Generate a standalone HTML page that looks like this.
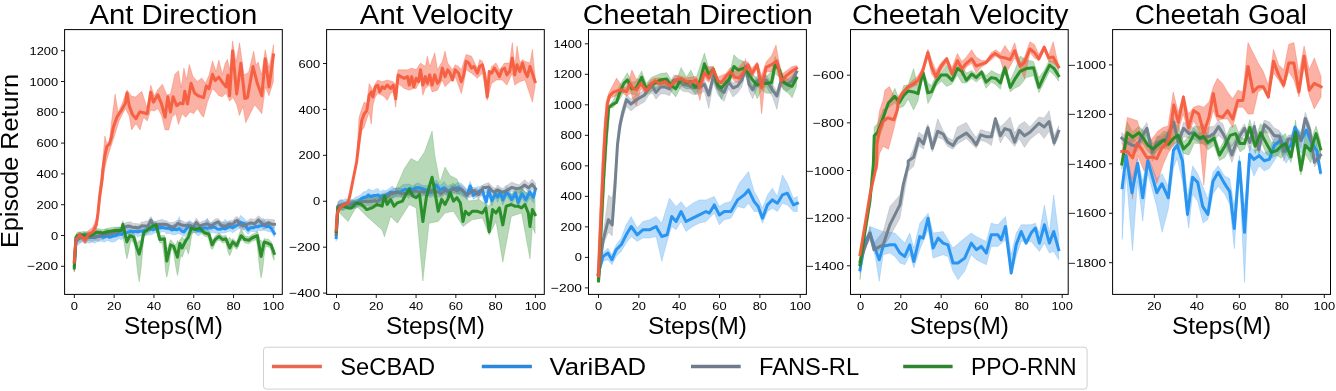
<!DOCTYPE html>
<html><head><meta charset="utf-8"><style>
html,body{margin:0;padding:0;background:#fff;}
svg{display:block;font-family:"Liberation Sans", sans-serif;fill:#000;will-change:transform;-webkit-font-smoothing:antialiased;}
text{fill:#000;}
</style></head><body>
<svg width="1336" height="391" viewBox="0 0 1336 391">
<rect width="1336" height="391" fill="#fff"/>
<clipPath id="c0"><rect x="64.6" y="29.6" width="217.70000000000002" height="264.79999999999995"/></clipPath>
<clipPath id="c1"><rect x="326.6" y="29.6" width="217.69999999999993" height="264.79999999999995"/></clipPath>
<clipPath id="c2"><rect x="588.5" y="29.6" width="217.89999999999998" height="264.79999999999995"/></clipPath>
<clipPath id="c3"><rect x="850.5" y="29.6" width="217.70000000000005" height="264.79999999999995"/></clipPath>
<clipPath id="c4"><rect x="1112.6" y="29.6" width="217.9000000000001" height="264.79999999999995"/></clipPath>
<g clip-path="url(#c0)">
<path d="M74.3,261.9 L76.0,235.6 L78.0,234.0 L80.0,232.3 L82.5,233.8 L85.0,231.8 L87.5,233.0 L89.9,233.3 L92.3,232.1 L94.7,233.4 L96.8,232.0 L98.8,232.8 L100.8,232.3 L102.9,232.4 L104.9,232.9 L107.0,230.5 L109.0,232.7 L111.1,232.3 L113.1,230.2 L115.2,231.1 L117.2,229.6 L119.3,228.3 L121.3,230.7 L123.4,229.3 L125.4,227.2 L128.0,226.7 L130.5,226.9 L133.1,227.7 L135.6,226.0 L137.7,226.2 L139.7,227.2 L141.8,225.4 L143.8,224.9 L145.9,225.6 L147.9,225.3 L150.5,225.2 L153.0,226.3 L155.6,223.0 L158.2,223.5 L160.2,222.6 L162.3,223.4 L164.3,222.3 L166.7,223.3 L169.2,223.8 L171.6,225.8 L174.0,223.9 L176.6,226.1 L179.1,216.6 L181.7,226.1 L184.2,226.4 L186.8,223.1 L189.3,220.5 L191.9,222.2 L194.5,223.4 L197.0,226.8 L199.6,227.0 L202.1,223.9 L204.7,224.1 L207.2,217.9 L209.8,223.3 L212.4,222.1 L214.9,223.3 L217.5,224.7 L220.0,223.6 L222.6,222.4 L225.2,219.2 L227.7,222.4 L230.3,221.7 L232.8,223.9 L235.4,222.6 L237.9,221.2 L240.5,215.3 L244.3,218.4 L248.2,224.0 L250.7,224.2 L253.3,222.7 L255.8,221.7 L258.4,221.4 L261.0,221.3 L263.5,217.9 L266.1,222.8 L268.6,221.3 L271.5,223.4 L274.4,227.6 L274.4,237.2 L271.5,232.2 L268.6,231.7 L266.1,230.8 L263.5,230.0 L261.0,230.9 L258.4,230.3 L255.8,232.1 L253.3,231.4 L250.7,231.4 L248.2,234.5 L244.3,229.6 L240.5,227.9 L237.9,229.0 L235.4,230.9 L232.8,232.8 L230.3,231.1 L227.7,231.7 L225.2,233.1 L222.6,233.0 L220.0,233.2 L217.5,233.3 L214.9,233.0 L212.4,232.3 L209.8,233.3 L207.2,234.0 L204.7,232.5 L202.1,232.4 L199.6,235.4 L197.0,235.3 L194.5,231.9 L191.9,233.7 L189.3,232.1 L186.8,233.6 L184.2,236.6 L181.7,235.0 L179.1,233.7 L176.6,234.1 L174.0,234.9 L171.6,234.3 L169.2,233.2 L166.7,234.0 L164.3,231.8 L162.3,231.5 L160.2,233.0 L158.2,231.8 L155.6,232.4 L153.0,234.1 L150.5,234.8 L147.9,234.9 L145.9,235.4 L143.8,235.9 L141.8,235.3 L139.7,235.9 L137.7,237.0 L135.6,234.9 L133.1,237.1 L130.5,234.8 L128.0,237.9 L125.4,237.5 L123.4,238.1 L121.3,240.0 L119.3,238.4 L117.2,239.9 L115.2,241.5 L113.1,242.1 L111.1,242.0 L109.0,240.9 L107.0,240.5 L104.9,242.0 L102.9,241.8 L100.8,241.1 L98.8,241.5 L96.8,241.9 L94.7,243.2 L92.3,242.1 L89.9,243.2 L87.5,242.8 L85.0,243.0 L82.5,241.9 L80.0,243.2 L78.0,245.1 L76.0,245.4 L74.3,271.2Z" fill="#2190F0" fill-opacity="0.3" stroke="#2190F0" stroke-opacity="0.24" stroke-width="0.8" stroke-linejoin="round"/>
<path d="M74.3,257.0 L76.0,234.1 L78.0,235.0 L80.0,233.4 L82.0,233.6 L84.0,232.5 L86.0,233.5 L88.0,233.4 L90.1,232.7 L92.2,233.0 L94.4,233.4 L96.5,233.2 L98.6,231.5 L100.8,230.3 L102.9,231.9 L105.0,229.8 L107.0,228.9 L109.0,230.1 L111.0,230.0 L113.0,229.5 L115.0,228.6 L117.1,227.9 L119.2,227.4 L121.3,227.4 L123.4,223.7 L125.4,222.8 L128.0,222.1 L130.5,221.7 L133.1,223.4 L135.6,223.3 L137.7,223.7 L139.7,224.1 L141.8,221.7 L143.8,222.1 L145.9,221.0 L147.9,221.2 L151.0,216.5 L153.0,220.5 L155.6,221.4 L158.2,220.4 L160.2,220.1 L162.3,219.3 L164.3,220.6 L166.7,220.9 L169.2,222.6 L171.6,222.5 L174.0,222.2 L177.8,220.1 L181.7,220.6 L185.5,222.5 L189.3,221.7 L193.2,223.5 L196.4,218.1 L199.6,222.4 L203.4,220.9 L207.2,219.4 L211.1,222.9 L214.9,219.0 L218.1,218.5 L221.3,221.5 L225.2,222.8 L229.0,220.7 L232.8,220.2 L235.1,217.4 L237.3,216.6 L240.5,221.1 L243.1,222.0 L245.6,221.7 L248.2,220.3 L250.7,218.6 L254.6,219.4 L258.4,215.8 L261.0,217.7 L263.5,220.4 L266.1,219.2 L268.6,219.2 L271.5,219.6 L274.4,219.7 L274.4,228.1 L271.5,228.7 L268.6,227.2 L266.1,228.4 L263.5,229.5 L261.0,225.9 L258.4,224.5 L254.6,228.7 L250.7,226.8 L248.2,227.9 L245.6,228.9 L243.1,230.3 L240.5,229.6 L237.3,224.7 L235.1,225.9 L232.8,229.1 L229.0,227.1 L225.2,230.3 L221.3,228.8 L218.1,225.1 L214.9,227.2 L211.1,230.6 L207.2,227.6 L203.4,228.0 L199.6,230.7 L196.4,226.8 L193.2,230.0 L189.3,229.3 L185.5,229.4 L181.7,229.1 L177.8,227.3 L174.0,230.7 L171.6,231.3 L169.2,229.9 L166.7,229.4 L164.3,227.7 L162.3,227.3 L160.2,229.6 L158.2,229.3 L155.6,229.4 L153.0,227.8 L151.0,223.4 L147.9,229.3 L145.9,230.0 L143.8,230.0 L141.8,229.9 L139.7,230.3 L137.7,231.3 L135.6,230.4 L133.1,230.9 L130.5,230.7 L128.0,230.0 L125.4,231.3 L123.4,232.6 L121.3,233.7 L119.2,236.6 L117.1,236.7 L115.0,237.0 L113.0,236.3 L111.0,237.2 L109.0,238.5 L107.0,237.6 L105.0,237.7 L102.9,239.9 L100.8,239.0 L98.6,240.9 L96.5,240.2 L94.4,240.6 L92.2,241.6 L90.1,240.9 L88.0,240.7 L86.0,242.6 L84.0,241.9 L82.0,240.6 L80.0,242.3 L78.0,242.1 L76.0,240.9 L74.3,266.7Z" fill="#6F7D8C" fill-opacity="0.33" stroke="#6F7D8C" stroke-opacity="0.26" stroke-width="0.8" stroke-linejoin="round"/>
<path d="M74.3,264.5 L76.0,234.5 L77.3,232.1 L78.3,232.0 L79.4,231.9 L80.4,231.9 L81.4,231.8 L82.4,231.7 L83.4,231.6 L84.5,231.6 L85.5,231.7 L86.5,231.7 L87.5,231.8 L88.6,231.9 L89.6,232.0 L90.6,232.1 L91.6,231.5 L92.7,230.9 L93.7,230.3 L94.7,229.7 L95.7,229.1 L96.8,228.5 L97.8,228.7 L98.8,228.8 L99.8,229.0 L100.8,229.2 L101.9,229.4 L102.9,229.5 L103.9,229.3 L104.9,229.0 L106.0,228.8 L107.0,228.5 L108.0,228.3 L109.0,228.0 L110.1,227.8 L111.1,227.7 L112.1,227.5 L113.1,227.3 L114.2,227.1 L115.2,227.0 L116.2,227.0 L117.2,227.0 L118.2,227.0 L119.3,227.0 L120.3,227.0 L121.3,227.0 L122.9,220.8 L124.1,226.5 L125.4,232.1 L126.9,237.3 L127.9,235.6 L128.9,233.7 L130.0,232.2 L131.3,232.8 L132.5,233.3 L133.8,233.4 L134.8,235.0 L135.9,237.9 L136.9,242.4 L138.0,242.8 L139.2,240.3 L140.3,242.5 L141.5,236.7 L142.6,231.7 L143.8,229.2 L145.1,228.1 L146.3,227.1 L147.6,226.1 L148.8,225.3 L149.9,224.6 L151.1,223.8 L152.2,223.0 L153.5,222.5 L154.8,222.0 L156.1,221.5 L157.3,225.1 L158.6,229.2 L159.9,234.2 L161.0,235.4 L162.2,235.7 L163.3,235.5 L164.5,235.3 L165.6,246.4 L166.8,248.0 L168.1,247.8 L169.4,242.3 L170.6,239.6 L171.7,240.8 L172.7,242.2 L173.7,243.0 L175.0,245.3 L176.3,243.7 L177.5,240.3 L178.7,242.6 L179.8,239.7 L181.0,238.6 L182.1,236.5 L183.4,238.8 L184.7,239.4 L186.0,236.2 L187.1,234.1 L188.3,232.5 L189.3,228.8 L190.3,226.3 L191.3,224.6 L192.6,225.1 L193.9,225.6 L195.2,226.1 L196.3,225.7 L197.5,225.3 L198.6,225.0 L199.8,224.6 L200.9,225.7 L202.1,226.9 L203.2,228.0 L204.4,229.2 L205.5,229.6 L206.7,229.9 L207.8,230.3 L209.0,230.7 L210.0,234.3 L211.0,237.9 L212.1,238.8 L213.1,239.7 L214.1,237.9 L215.1,236.1 L216.4,235.1 L217.7,234.0 L219.0,233.0 L220.2,234.0 L221.5,235.1 L222.8,236.1 L223.8,235.8 L224.8,235.6 L225.9,235.3 L227.1,238.4 L228.4,239.2 L229.7,237.3 L230.7,239.1 L231.7,240.0 L232.8,238.4 L234.0,239.7 L235.3,240.9 L236.6,241.9 L237.8,239.0 L238.9,234.7 L240.1,231.6 L241.2,229.6 L242.5,231.5 L243.8,234.0 L245.0,236.1 L246.3,236.3 L247.6,236.6 L248.9,236.8 L249.9,236.1 L250.9,235.3 L251.9,234.5 L253.0,234.1 L254.1,233.6 L255.2,233.2 L256.2,232.2 L257.3,231.1 L258.6,234.1 L259.9,240.6 L261.1,240.3 L262.2,242.6 L263.2,243.0 L264.2,238.4 L265.5,238.9 L266.8,239.4 L268.1,238.8 L269.1,239.9 L270.1,240.9 L271.1,241.4 L272.1,244.3 L273.2,247.1 L274.2,249.5 L274.2,260.3 L273.2,258.3 L272.1,255.2 L271.1,250.9 L270.1,247.9 L269.1,247.4 L268.1,246.9 L266.8,246.4 L265.5,247.0 L264.2,255.8 L263.2,265.2 L262.2,272.5 L261.1,277.9 L259.9,270.7 L258.6,259.9 L257.3,245.6 L256.2,239.7 L255.2,240.2 L254.1,240.6 L253.0,241.1 L251.9,241.5 L250.9,242.3 L249.9,243.1 L248.9,243.8 L247.6,243.6 L246.3,243.3 L245.0,243.1 L243.8,241.8 L242.5,240.5 L241.2,240.3 L240.1,241.7 L238.9,245.5 L237.8,248.1 L236.6,249.5 L235.3,248.2 L234.0,246.7 L232.8,247.2 L231.7,250.9 L230.7,253.7 L229.7,255.7 L228.4,252.9 L227.1,248.6 L225.9,242.7 L224.8,242.6 L223.8,242.8 L222.8,243.1 L221.5,242.1 L220.2,241.0 L219.0,240.0 L217.7,241.0 L216.4,242.1 L215.1,243.4 L214.1,246.2 L213.1,248.2 L212.1,249.5 L211.0,247.9 L210.0,244.7 L209.0,240.1 L207.8,237.3 L206.7,236.9 L205.5,236.6 L204.4,236.2 L203.2,235.0 L202.1,233.9 L200.9,232.7 L199.8,231.6 L198.6,232.0 L197.5,232.3 L196.3,232.7 L195.2,233.1 L193.9,232.6 L192.6,232.1 L191.3,238.1 L190.3,244.7 L189.3,250.1 L188.3,254.2 L187.1,250.6 L186.0,247.8 L184.7,249.9 L183.4,254.2 L182.1,257.2 L181.0,255.0 L179.8,260.8 L178.7,269.8 L177.5,275.6 L176.3,270.0 L175.0,262.6 L173.7,253.3 L172.7,249.5 L171.7,249.0 L170.6,252.4 L169.4,263.4 L168.1,271.7 L166.8,277.2 L165.6,270.9 L164.5,259.5 L163.3,250.8 L162.2,242.7 L161.0,242.9 L159.9,243.1 L158.6,240.0 L157.3,235.7 L156.1,229.6 L154.8,229.0 L153.5,229.5 L152.2,230.0 L151.1,230.8 L149.9,231.6 L148.8,232.3 L147.6,233.1 L146.3,234.1 L145.1,235.1 L143.8,236.6 L142.6,252.1 L141.5,264.8 L140.3,274.4 L139.2,281.8 L138.0,274.7 L136.9,266.2 L135.9,256.9 L134.8,246.2 L133.8,243.4 L132.5,241.7 L131.3,239.8 L130.0,244.6 L128.9,250.2 L127.9,254.9 L126.9,258.8 L125.4,251.8 L124.1,242.8 L122.9,236.7 L121.3,234.9 L120.3,234.0 L119.3,234.0 L118.2,234.0 L117.2,234.0 L116.2,234.0 L115.2,234.0 L114.2,234.1 L113.1,234.3 L112.1,234.5 L111.1,234.7 L110.1,234.8 L109.0,235.0 L108.0,235.3 L107.0,235.5 L106.0,235.8 L104.9,236.0 L103.9,236.3 L102.9,236.5 L101.9,236.4 L100.8,236.2 L99.8,236.0 L98.8,235.8 L97.8,235.7 L96.8,235.5 L95.7,236.1 L94.7,236.7 L93.7,237.3 L92.7,237.9 L91.6,238.5 L90.6,239.1 L89.6,239.0 L88.6,238.9 L87.5,238.8 L86.5,238.7 L85.5,238.7 L84.5,238.6 L83.4,238.6 L82.4,238.7 L81.4,238.8 L80.4,238.9 L79.4,238.9 L78.3,239.0 L77.3,239.1 L76.0,241.5 L74.3,271.5Z" fill="#238B23" fill-opacity="0.33" stroke="#238B23" stroke-opacity="0.26" stroke-width="0.8" stroke-linejoin="round"/>
<path d="M74.3,258.0 L75.9,237.0 L79.3,232.0 L82.7,234.0 L85.1,236.5 L87.8,231.0 L92.9,227.0 L96.3,219.0 L98.0,206.0 L99.7,188.0 L102.1,168.0 L104.9,136.0 L106.9,143.2 L109.4,141.2 L111.4,122.7 L115.1,94.1 L118.2,112.5 L122.3,103.3 L127.0,90.0 L131.5,96.1 L135.4,97.0 L141.8,91.3 L147.2,108.4 L150.7,85.1 L154.3,95.8 L157.9,89.6 L162.4,84.2 L166.9,94.9 L170.4,94.0 L174.9,74.3 L178.5,70.7 L181.2,87.8 L183.9,68.1 L186.6,79.7 L189.3,64.5 L192.8,76.1 L197.3,81.5 L201.8,77.9 L205.4,83.3 L209.0,75.2 L212.5,60.9 L216.1,71.6 L218.8,60.0 L222.4,74.3 L225.1,63.6 L227.4,59.4 L230.0,70.0 L232.6,40.9 L236.0,62.0 L239.6,42.8 L244.0,75.0 L248.6,72.2 L253.7,51.1 L256.0,65.0 L258.2,62.0 L261.5,75.0 L265.2,49.8 L269.0,68.0 L273.5,44.7 L273.4,81.5 L269.0,95.8 L265.4,86.9 L261.8,113.7 L259.1,110.2 L254.6,104.8 L250.2,113.7 L245.7,122.7 L243.0,106.6 L239.4,115.5 L236.7,104.8 L233.1,97.6 L229.6,101.2 L226.0,93.1 L222.4,96.7 L218.8,95.8 L216.1,92.2 L212.5,88.7 L209.9,95.8 L207.2,103.0 L203.6,117.3 L201.8,115.5 L197.3,108.4 L193.7,113.7 L190.2,111.9 L185.7,117.3 L182.1,113.7 L178.5,124.5 L175.8,113.7 L172.2,117.3 L168.7,130.0 L165.1,130.0 L161.5,115.5 L157.9,108.4 L154.3,111.0 L150.7,110.2 L147.2,120.9 L143.6,117.3 L140.0,130.0 L136.0,123.8 L131.5,129.9 L129.4,116.6 L125.4,108.4 L119.2,120.7 L114.1,137.1 L110.0,149.4 L106.9,159.6 L104.9,168.0 L102.1,188.0 L99.7,204.0 L98.0,220.0 L96.3,230.0 L92.9,236.0 L87.8,239.0 L85.1,244.0 L82.7,241.0 L79.3,238.5 L75.9,244.0 L74.3,272.0Z" fill="#F65C3E" fill-opacity="0.48" stroke="#F65C3E" stroke-opacity="0.38" stroke-width="0.8" stroke-linejoin="round"/>
<path d="M74.3,265.9 L76.0,240.1 L78.0,239.6 L80.0,237.4 L82.5,237.6 L85.0,237.8 L87.5,237.0 L89.9,237.5 L92.3,237.6 L94.7,237.7 L96.8,236.2 L98.8,236.5 L100.8,236.0 L102.9,237.3 L104.9,237.0 L107.0,235.5 L109.0,237.2 L111.1,236.9 L113.1,236.1 L115.2,235.8 L117.2,234.6 L119.3,233.9 L121.3,234.6 L123.4,233.2 L125.4,232.9 L128.0,232.3 L130.5,231.1 L133.1,231.7 L135.6,231.4 L137.7,232.0 L139.7,231.2 L141.8,231.3 L143.8,230.6 L145.9,230.6 L147.9,229.9 L150.5,229.0 L153.0,229.9 L155.6,228.9 L158.2,227.6 L160.2,227.8 L162.3,227.5 L164.3,227.9 L166.7,228.2 L169.2,228.1 L171.6,229.7 L174.0,229.2 L176.6,229.8 L179.1,228.5 L181.7,231.0 L184.2,232.0 L186.8,228.1 L189.3,226.3 L191.9,228.0 L194.5,227.4 L197.0,230.4 L199.6,231.1 L202.1,228.6 L204.7,227.8 L207.2,228.4 L209.8,227.7 L212.4,227.0 L214.9,227.2 L217.5,229.1 L220.0,229.3 L222.6,228.3 L225.2,228.9 L227.7,227.7 L230.3,226.6 L232.8,227.8 L235.4,226.2 L237.9,224.7 L240.5,222.3 L244.3,223.7 L248.2,229.9 L250.7,227.7 L253.3,227.8 L255.8,226.4 L258.4,226.7 L261.0,225.6 L263.5,225.1 L266.1,226.5 L268.6,226.2 L271.5,228.7 L274.4,233.4" fill="none" stroke="#2190F0" stroke-width="3" stroke-linejoin="round" stroke-linecap="square" stroke-opacity="0.95"/>
<path d="M74.3,261.9 L76.0,237.2 L78.0,238.4 L80.0,237.4 L82.0,237.2 L84.0,236.9 L86.0,237.8 L88.0,237.4 L90.1,237.4 L92.2,237.1 L94.4,237.1 L96.5,237.0 L98.6,236.2 L100.8,235.1 L102.9,235.3 L105.0,234.5 L107.0,233.8 L109.0,234.2 L111.0,234.1 L113.0,232.9 L115.0,232.6 L117.1,231.9 L119.2,231.6 L121.3,230.5 L123.4,228.6 L125.4,226.8 L128.0,226.0 L130.5,226.3 L133.1,227.5 L135.6,227.3 L137.7,228.1 L139.7,227.2 L141.8,225.8 L143.8,226.0 L145.9,225.9 L147.9,226.0 L151.0,220.0 L153.0,224.4 L155.6,224.7 L158.2,224.3 L160.2,224.7 L162.3,224.1 L164.3,224.6 L166.7,224.5 L169.2,225.9 L171.6,226.7 L174.0,227.1 L177.8,223.4 L181.7,225.1 L185.5,225.6 L189.3,225.1 L193.2,227.0 L196.4,222.4 L199.6,226.0 L203.4,224.6 L207.2,223.7 L211.1,226.1 L214.9,223.4 L218.1,221.7 L221.3,225.5 L225.2,226.3 L229.0,224.1 L232.8,224.3 L235.1,221.3 L237.3,220.3 L240.5,224.9 L243.1,226.1 L245.6,225.1 L248.2,223.7 L250.7,222.8 L254.6,223.7 L258.4,219.9 L261.0,222.4 L263.5,224.7 L266.1,223.9 L268.6,222.7 L271.5,224.1 L274.4,224.3" fill="none" stroke="#6F7D8C" stroke-width="3" stroke-linejoin="round" stroke-linecap="square" stroke-opacity="0.95"/>
<path d="M74.3,268.0 L76.0,238.0 L77.3,235.6 L84.5,235.1 L90.6,235.6 L96.8,232.0 L102.9,233.0 L109.0,231.5 L115.2,230.5 L121.3,230.5 L122.9,224.3 L125.4,235.6 L126.9,241.9 L130.0,235.7 L133.8,237.3 L136.9,248.0 L139.2,254.2 L141.5,244.9 L143.8,232.7 L147.6,229.6 L152.2,226.5 L156.1,225.0 L159.9,239.6 L164.5,238.8 L166.8,261.1 L170.6,244.9 L173.7,246.5 L177.5,257.2 L179.8,243.4 L182.1,248.0 L186.0,240.3 L188.3,237.3 L191.3,228.1 L195.2,229.6 L199.8,228.1 L204.4,232.7 L209.0,234.2 L212.1,244.9 L215.1,239.6 L219.0,236.5 L222.8,239.6 L225.9,238.8 L229.7,248.0 L232.8,241.9 L236.6,245.7 L241.2,235.7 L245.0,239.6 L248.9,240.3 L251.9,238.0 L257.3,235.7 L261.1,256.5 L264.2,241.9 L268.1,243.4 L271.1,244.9 L274.2,253.4" fill="none" stroke="#238B23" stroke-width="3" stroke-linejoin="round" stroke-linecap="square" stroke-opacity="0.95"/>
<path d="M74.3,262.0 L75.9,240.2 L79.3,235.1 L82.7,237.5 L85.1,240.2 L87.8,235.1 L92.9,231.7 L96.3,224.9 L98.0,213.0 L99.7,196.0 L102.1,179.0 L102.8,170.0 L104.9,155.5 L106.9,146.3 L109.4,144.2 L111.4,137.1 L113.5,126.8 L117.2,116.6 L121.3,110.5 L125.4,103.3 L127.0,93.1 L129.4,106.4 L132.5,114.6 L136.0,118.7 L139.5,112.3 L140.0,111.9 L143.6,112.8 L147.2,113.7 L150.7,92.2 L153.4,102.1 L157.9,94.9 L161.5,103.9 L165.1,117.3 L167.8,96.7 L170.4,111.9 L173.1,96.7 L176.7,105.7 L180.3,103.0 L183.0,103.9 L184.8,91.3 L187.5,103.9 L191.0,83.3 L194.6,93.1 L198.2,95.8 L200.9,96.7 L203.6,97.6 L206.3,86.0 L209.0,88.7 L212.5,74.3 L215.2,80.6 L218.8,77.0 L222.4,82.4 L226.0,86.9 L227.8,75.2 L229.6,95.8 L232.6,51.1 L236.7,94.0 L240.9,63.3 L244.8,98.5 L247.5,97.6 L253.0,66.5 L257.3,83.3 L261.8,95.8 L265.2,58.8 L269.0,86.9 L273.5,55.0" fill="none" stroke="#F65C3E" stroke-width="3" stroke-linejoin="round" stroke-linecap="square" stroke-opacity="0.95"/>
</g>
<g clip-path="url(#c1)">
<path d="M336.2,233.7 L337.9,202.1 L340.5,199.4 L343.0,199.9 L345.6,198.5 L348.1,200.8 L350.7,200.6 L353.2,199.1 L355.8,196.9 L358.3,196.3 L360.9,194.4 L363.4,191.8 L366.0,191.5 L368.5,188.8 L371.1,190.3 L373.6,190.6 L375.9,188.9 L378.1,188.5 L380.4,191.9 L382.7,189.9 L384.9,190.8 L387.2,190.0 L389.8,188.1 L392.3,186.1 L394.9,188.6 L397.4,188.0 L400.0,186.9 L402.5,184.8 L405.1,184.3 L407.6,184.0 L410.2,184.6 L412.7,186.0 L415.3,183.9 L417.8,182.9 L420.4,184.0 L422.9,185.5 L425.5,185.6 L428.0,185.3 L430.6,186.2 L433.1,184.5 L436.3,179.9 L440.1,185.6 L444.0,181.5 L447.8,186.4 L450.3,184.5 L452.9,185.7 L455.5,184.1 L458.0,181.9 L461.9,183.8 L464.4,186.3 L467.0,189.9 L470.2,181.2 L473.4,190.2 L477.2,186.7 L479.8,186.6 L482.3,185.1 L486.2,197.6 L488.7,184.5 L491.9,197.2 L495.1,188.6 L497.7,190.8 L500.2,188.6 L502.8,194.8 L506.6,186.3 L509.2,189.0 L511.7,194.3 L515.6,189.0 L518.1,198.0 L522.0,187.4 L525.8,193.6 L529.6,188.1 L533.5,193.5 L535.4,185.4 L535.4,194.0 L533.5,202.9 L529.6,197.9 L525.8,205.4 L522.0,198.0 L518.1,207.5 L515.6,196.9 L511.7,203.7 L509.2,199.7 L506.6,196.4 L502.8,205.1 L500.2,197.0 L497.7,202.5 L495.1,197.7 L491.9,206.1 L488.7,195.1 L486.2,207.7 L482.3,196.2 L479.8,194.7 L477.2,196.5 L473.4,199.3 L470.2,192.5 L467.0,199.7 L464.4,197.0 L461.9,196.1 L458.0,193.9 L455.5,191.9 L452.9,194.5 L450.3,195.3 L447.8,197.1 L444.0,192.3 L440.1,196.3 L436.3,190.6 L433.1,195.3 L430.6,197.9 L428.0,195.3 L425.5,196.5 L422.9,194.3 L420.4,193.0 L417.8,192.0 L415.3,194.4 L412.7,194.7 L410.2,193.0 L407.6,193.6 L405.1,193.7 L402.5,196.2 L400.0,197.1 L397.4,197.3 L394.9,196.6 L392.3,198.0 L389.8,196.0 L387.2,199.5 L384.9,199.3 L382.7,201.9 L380.4,203.0 L378.1,201.0 L375.9,201.0 L373.6,199.0 L371.1,201.9 L368.5,200.6 L366.0,201.7 L363.4,201.4 L360.9,203.1 L358.3,206.3 L355.8,207.8 L353.2,207.3 L350.7,209.5 L348.1,209.1 L345.6,209.3 L343.0,210.6 L340.5,209.6 L337.9,211.5 L336.2,241.3Z" fill="#2190F0" fill-opacity="0.3" stroke="#2190F0" stroke-opacity="0.24" stroke-width="0.8" stroke-linejoin="round"/>
<path d="M336.2,230.9 L337.9,201.9 L340.5,200.1 L343.0,200.8 L345.3,202.0 L347.5,198.8 L349.8,199.4 L352.1,199.6 L354.3,200.6 L356.6,200.0 L358.9,198.7 L361.1,197.5 L363.4,198.0 L365.7,196.4 L367.9,196.6 L370.2,196.1 L372.5,196.2 L374.7,197.6 L377.0,197.4 L379.3,196.6 L381.5,193.8 L383.8,193.4 L386.1,192.5 L388.3,192.8 L390.6,190.3 L392.9,188.4 L395.1,188.3 L397.4,187.9 L399.7,188.4 L401.9,188.8 L404.2,189.7 L406.5,189.7 L408.7,190.1 L411.0,189.3 L413.3,187.4 L415.5,185.5 L417.8,188.5 L420.1,188.7 L422.3,187.2 L424.6,187.6 L426.9,188.8 L429.1,188.1 L431.4,187.3 L433.8,189.1 L436.3,187.3 L438.8,187.3 L441.4,189.1 L445.2,186.6 L449.1,189.6 L452.9,182.8 L456.7,186.4 L460.6,184.9 L464.4,187.5 L467.0,190.4 L470.8,187.5 L474.6,187.3 L478.5,189.6 L481.0,187.3 L483.6,184.3 L486.2,183.6 L488.7,182.6 L492.5,186.7 L495.1,188.6 L497.7,185.0 L500.2,187.2 L502.8,188.6 L505.3,186.1 L507.9,184.7 L511.7,182.1 L515.6,183.8 L519.4,184.7 L522.0,182.2 L524.5,179.7 L528.4,183.4 L532.2,179.0 L535.4,183.1 L535.4,192.8 L532.2,189.3 L528.4,191.7 L524.5,188.1 L522.0,191.3 L519.4,193.2 L515.6,193.3 L511.7,190.9 L507.9,193.2 L505.3,196.8 L502.8,196.4 L500.2,195.9 L497.7,194.4 L495.1,195.1 L492.5,195.3 L488.7,190.9 L486.2,193.0 L483.6,192.3 L481.0,195.7 L478.5,199.6 L474.6,194.9 L470.8,196.9 L467.0,198.3 L464.4,196.4 L460.6,193.2 L456.7,194.4 L452.9,192.3 L449.1,196.8 L445.2,194.0 L441.4,197.4 L438.8,196.7 L436.3,196.4 L433.8,197.1 L431.4,195.1 L429.1,195.9 L426.9,195.9 L424.6,195.6 L422.3,195.8 L420.1,197.1 L417.8,196.0 L415.5,196.1 L413.3,195.2 L411.0,196.6 L408.7,198.6 L406.5,196.4 L404.2,198.0 L401.9,197.9 L399.7,195.6 L397.4,195.7 L395.1,196.7 L392.9,198.4 L390.6,197.8 L388.3,199.8 L386.1,201.4 L383.8,201.5 L381.5,202.9 L379.3,205.0 L377.0,206.7 L374.7,205.6 L372.5,205.8 L370.2,207.0 L367.9,205.3 L365.7,206.6 L363.4,205.9 L361.1,207.2 L358.9,206.1 L356.6,208.1 L354.3,208.6 L352.1,208.4 L349.8,209.0 L347.5,207.6 L345.3,208.4 L343.0,209.7 L340.5,210.7 L337.9,211.4 L336.2,238.6Z" fill="#6F7D8C" fill-opacity="0.33" stroke="#6F7D8C" stroke-opacity="0.26" stroke-width="0.8" stroke-linejoin="round"/>
<path d="M336.2,230.0 L337.9,204.5 L356.6,199.4 L382.1,194.3 L394.0,192.6 L404.2,168.8 L411.0,158.6 L417.8,162.0 L424.6,151.8 L432.1,131.1 L434.8,155.2 L439.9,182.4 L445.0,167.1 L450.1,175.6 L456.9,179.0 L462.0,190.9 L468.8,201.1 L479.0,199.4 L489.2,206.2 L496.0,189.2 L502.8,190.9 L511.3,194.3 L519.8,187.5 L526.6,192.6 L532.4,197.7 L535.1,199.4 L535.1,233.4 L532.4,226.6 L530.0,258.9 L521.5,213.0 L511.3,216.4 L502.8,262.3 L496.0,221.5 L489.2,235.1 L482.4,218.1 L472.2,219.8 L463.0,226.6 L453.5,211.3 L445.0,213.0 L438.2,221.5 L429.0,223.2 L422.9,281.0 L416.1,207.9 L409.3,204.5 L397.4,223.2 L390.6,216.4 L384.5,236.8 L382.1,230.0 L366.8,216.4 L356.6,206.2 L348.1,221.5 L337.9,211.3 L336.2,235.1Z" fill="#238B23" fill-opacity="0.33" stroke="#238B23" stroke-opacity="0.26" stroke-width="0.8" stroke-linejoin="round"/>
<path d="M336.2,228.0 L337.2,211.0 L339.6,205.9 L344.7,202.5 L348.1,200.8 L350.5,190.6 L353.2,177.0 L356.6,160.0 L359.0,117.4 L361.7,108.9 L364.1,102.1 L366.8,103.8 L369.2,83.4 L372.9,90.2 L375.3,83.4 L377.7,80.0 L382.1,81.7 L387.2,80.0 L393.3,81.7 L395.7,85.1 L398.1,69.8 L402.5,69.8 L407.6,69.8 L411.7,68.1 L416.1,69.8 L420.5,63.0 L425.3,66.4 L427.3,56.2 L429.7,66.4 L434.8,52.8 L437.5,69.8 L442.3,61.3 L445.0,51.1 L447.7,63.0 L452.5,69.8 L455.2,64.7 L458.6,66.4 L461.3,69.8 L466.1,54.5 L471.5,56.2 L477.3,68.1 L479.7,59.6 L482.4,61.3 L487.2,85.1 L491.6,66.4 L496.0,63.0 L499.4,69.8 L504.5,63.0 L509.6,63.0 L512.3,42.6 L514.7,66.4 L517.1,46.0 L519.8,63.0 L522.5,59.6 L524.9,61.3 L530.0,63.0 L532.4,49.4 L535.1,76.6 L535.1,86.8 L532.4,102.1 L527.3,86.8 L524.9,80.0 L519.8,81.7 L514.7,85.1 L512.3,73.2 L506.9,85.1 L502.1,80.0 L496.7,80.0 L491.6,83.4 L487.2,100.4 L482.4,73.2 L477.3,78.3 L471.5,73.2 L466.1,69.8 L463.7,83.4 L461.3,93.6 L455.2,76.6 L450.1,81.7 L445.0,86.8 L442.3,80.0 L437.5,90.2 L432.1,91.9 L429.7,85.1 L425.3,88.5 L422.9,95.3 L420.5,80.0 L416.1,88.5 L413.7,88.5 L409.3,90.2 L404.2,88.5 L398.1,83.4 L395.7,107.2 L393.3,91.9 L390.6,93.6 L387.2,100.4 L384.5,97.0 L382.1,95.3 L377.7,93.6 L375.3,97.0 L372.9,105.5 L371.2,124.2 L369.2,112.3 L366.8,119.1 L364.1,127.6 L361.7,131.0 L359.0,151.4 L356.6,164.0 L353.2,181.0 L350.5,194.6 L348.1,204.8 L344.7,206.5 L339.6,209.9 L337.2,215.0 L336.2,232.0Z" fill="#F65C3E" fill-opacity="0.48" stroke="#F65C3E" stroke-opacity="0.38" stroke-width="0.8" stroke-linejoin="round"/>
<path d="M336.2,237.7 L337.9,206.7 L340.5,205.7 L343.0,204.5 L345.6,203.8 L348.1,205.2 L350.7,204.4 L353.2,202.8 L355.8,202.8 L358.3,202.2 L360.9,199.1 L363.4,197.4 L366.0,197.1 L368.5,195.0 L371.1,196.7 L373.6,195.4 L375.9,195.4 L378.1,194.9 L380.4,197.2 L382.7,196.0 L384.9,195.8 L387.2,194.6 L389.8,192.3 L392.3,192.2 L394.9,192.6 L397.4,191.7 L400.0,192.8 L402.5,190.6 L405.1,189.2 L407.6,190.0 L410.2,188.3 L412.7,190.2 L415.3,188.2 L417.8,187.6 L420.4,188.0 L422.9,189.2 L425.5,190.2 L428.0,191.5 L430.6,192.6 L433.1,190.3 L436.3,184.9 L440.1,189.9 L444.0,187.9 L447.8,191.5 L450.3,190.2 L452.9,189.3 L455.5,188.2 L458.0,187.9 L461.9,189.7 L464.4,192.4 L467.0,195.2 L470.2,186.0 L473.4,195.4 L477.2,192.8 L479.8,191.0 L482.3,190.3 L486.2,202.0 L488.7,190.3 L491.9,200.7 L495.1,194.1 L497.7,197.1 L500.2,192.2 L502.8,200.1 L506.6,191.8 L509.2,195.0 L511.7,199.5 L515.6,193.3 L518.1,202.7 L522.0,193.7 L525.8,199.8 L529.6,192.0 L533.5,197.3 L535.4,189.2" fill="none" stroke="#2190F0" stroke-width="3" stroke-linejoin="round" stroke-linecap="square" stroke-opacity="0.95"/>
<path d="M336.2,234.6 L337.9,206.0 L340.5,205.3 L343.0,204.7 L345.3,205.3 L347.5,203.8 L349.8,204.5 L352.1,203.9 L354.3,203.8 L356.6,203.5 L358.9,202.7 L361.1,201.9 L363.4,201.6 L365.7,201.4 L367.9,201.7 L370.2,201.5 L372.5,201.4 L374.7,200.6 L377.0,201.9 L379.3,199.8 L381.5,199.0 L383.8,198.3 L386.1,197.4 L388.3,196.3 L390.6,193.4 L392.9,193.4 L395.1,192.8 L397.4,192.4 L399.7,192.5 L401.9,193.8 L404.2,193.5 L406.5,193.4 L408.7,194.0 L411.0,193.0 L413.3,192.0 L415.5,190.8 L417.8,191.7 L420.1,191.8 L422.3,191.5 L424.6,192.3 L426.9,192.3 L429.1,191.8 L431.4,190.5 L433.8,192.2 L436.3,191.5 L438.8,192.1 L441.4,193.8 L445.2,190.0 L449.1,192.8 L452.9,188.1 L456.7,190.8 L460.6,188.9 L464.4,192.3 L467.0,195.2 L470.8,191.8 L474.6,190.5 L478.5,194.6 L481.0,190.8 L483.6,187.4 L486.2,187.5 L488.7,187.0 L492.5,191.3 L495.1,192.0 L497.7,189.7 L500.2,191.5 L502.8,192.0 L505.3,191.3 L507.9,189.7 L511.7,187.4 L515.6,188.5 L519.4,188.2 L522.0,187.1 L524.5,185.0 L528.4,187.8 L532.2,184.3 L535.4,188.6" fill="none" stroke="#6F7D8C" stroke-width="3" stroke-linejoin="round" stroke-linecap="square" stroke-opacity="0.95"/>
<path d="M336.2,231.7 L337.9,207.9 L343.0,206.2 L348.1,207.9 L351.5,207.9 L356.6,202.8 L361.7,204.5 L366.8,209.6 L371.9,207.9 L377.0,204.5 L382.1,206.2 L384.5,196.0 L387.2,204.5 L390.6,199.4 L394.0,206.2 L397.4,202.8 L402.5,201.1 L405.9,194.3 L409.3,189.2 L412.7,196.0 L416.1,197.7 L419.5,194.3 L422.9,221.5 L426.3,197.7 L429.0,187.5 L432.1,177.3 L434.8,190.9 L438.2,211.3 L441.6,199.4 L445.0,204.5 L447.7,199.4 L450.1,192.6 L453.5,201.1 L456.9,197.7 L460.3,202.8 L463.0,221.5 L465.4,211.3 L468.8,214.7 L472.2,211.3 L477.3,211.3 L482.4,213.0 L485.8,207.9 L489.2,231.7 L492.6,209.6 L496.0,213.0 L499.4,207.9 L502.8,224.9 L506.2,206.2 L511.3,204.5 L514.7,206.2 L518.1,206.2 L521.5,207.9 L524.9,204.5 L528.3,213.0 L530.0,226.6 L532.4,209.6 L535.1,214.7" fill="none" stroke="#238B23" stroke-width="3" stroke-linejoin="round" stroke-linecap="square" stroke-opacity="0.95"/>
<path d="M336.2,230.0 L337.2,213.0 L339.6,207.9 L344.7,204.5 L348.1,202.8 L350.5,192.6 L353.2,179.0 L356.6,162.0 L359.0,141.2 L361.7,120.8 L364.1,114.0 L366.8,110.6 L369.2,95.3 L371.2,91.9 L372.9,97.0 L375.3,86.8 L377.7,85.1 L379.7,91.9 L382.1,86.8 L384.5,88.5 L387.2,85.1 L390.6,88.5 L393.3,85.1 L395.7,98.7 L398.1,74.9 L400.8,76.6 L404.2,78.3 L407.6,76.6 L409.3,85.1 L411.7,76.6 L413.7,86.8 L416.1,78.3 L418.5,81.7 L420.5,69.8 L422.9,85.1 L425.3,76.6 L427.3,83.4 L429.7,74.9 L432.1,85.1 L434.8,74.9 L437.5,83.4 L439.9,80.0 L442.3,68.1 L445.0,76.6 L447.7,69.8 L450.1,73.2 L452.5,80.0 L455.2,69.8 L458.6,73.2 L461.3,81.7 L463.7,74.9 L466.1,61.3 L468.8,63.0 L471.5,68.1 L473.9,66.4 L477.3,73.2 L479.7,66.4 L482.4,64.7 L484.8,74.9 L487.2,97.0 L489.2,71.5 L491.6,73.2 L494.3,68.1 L496.7,71.5 L499.4,76.6 L502.1,69.8 L504.5,68.1 L506.9,74.9 L509.6,71.5 L512.3,57.9 L514.7,74.9 L517.1,64.7 L519.8,71.5 L522.5,63.0 L524.9,71.5 L527.3,76.6 L530.0,66.4 L532.4,73.2 L535.1,81.7" fill="none" stroke="#F65C3E" stroke-width="3" stroke-linejoin="round" stroke-linecap="square" stroke-opacity="0.95"/>
</g>
<g clip-path="url(#c2)">
<path d="M598.0,273.0 L603.0,253.1 L607.9,248.1 L611.9,254.7 L616.2,244.8 L621.2,238.1 L626.2,224.8 L631.2,216.5 L637.2,228.1 L642.8,221.5 L649.5,219.8 L656.1,216.5 L661.8,223.2 L669.4,198.2 L676.1,206.5 L681.1,201.6 L686.0,208.2 L692.7,203.2 L699.3,199.9 L706.0,199.9 L714.3,196.6 L719.3,206.5 L724.3,203.2 L730.9,201.6 L739.2,183.3 L748.5,171.6 L754.2,191.6 L758.2,198.2 L762.5,208.2 L767.5,194.9 L772.4,188.3 L777.4,196.6 L782.4,175.0 L787.4,183.3 L793.4,198.2 L797.4,196.6 L797.4,211.5 L793.4,211.5 L787.4,204.9 L782.4,203.2 L777.4,211.5 L772.4,208.2 L767.5,211.5 L762.5,223.2 L758.2,211.5 L754.2,211.5 L748.5,203.2 L744.2,208.2 L737.6,206.5 L730.9,218.2 L724.3,219.8 L719.3,224.8 L714.3,213.2 L706.0,221.5 L699.3,223.2 L692.7,226.5 L686.0,231.5 L681.1,221.5 L676.1,229.8 L671.7,226.5 L667.1,241.4 L661.8,261.4 L656.1,236.5 L649.5,238.1 L642.8,238.1 L637.2,241.4 L631.2,236.5 L626.2,243.1 L621.2,251.4 L616.2,256.4 L611.9,264.7 L607.9,259.7 L603.0,261.4 L598.0,276.3Z" fill="#2190F0" fill-opacity="0.3" stroke="#2190F0" stroke-opacity="0.24" stroke-width="0.8" stroke-linejoin="round"/>
<path d="M598.5,274.0 L603.0,236.0 L608.4,195.0 L612.2,198.0 L614.9,175.0 L617.5,135.0 L620.0,118.0 L622.9,106.0 L626.5,94.6 L631.0,99.1 L635.4,95.5 L639.9,92.8 L644.4,90.1 L648.9,83.0 L652.4,81.2 L656.0,87.4 L660.5,82.1 L665.0,82.1 L669.5,83.8 L673.9,74.9 L678.4,75.8 L682.9,79.4 L688.3,80.3 L693.6,83.0 L699.9,82.1 L704.4,79.4 L708.8,90.1 L713.3,71.3 L717.8,83.0 L724.1,87.4 L728.5,76.7 L733.0,83.0 L737.5,81.2 L742.0,74.9 L745.5,58.4 L749.1,79.4 L752.7,84.7 L757.2,75.8 L761.6,75.8 L766.1,74.9 L772.4,84.7 L776.9,91.0 L781.3,74.9 L786.7,79.4 L792.1,75.8 L796.6,66.8 L796.6,78.7 L792.1,87.6 L786.7,91.2 L781.3,86.7 L776.9,109.4 L772.4,96.6 L766.1,86.7 L761.6,87.6 L757.2,87.6 L752.7,98.7 L749.1,91.2 L745.5,73.3 L742.0,86.7 L737.5,93.0 L733.0,96.9 L728.5,88.5 L724.1,101.4 L717.8,94.8 L713.3,83.1 L708.8,108.6 L704.4,91.2 L699.9,93.9 L693.6,94.8 L688.3,92.1 L682.9,91.2 L678.4,87.6 L673.9,86.7 L669.5,95.7 L665.0,93.9 L660.5,93.9 L656.0,99.2 L652.4,93.0 L648.9,94.8 L644.4,101.9 L639.9,104.6 L635.4,107.3 L631.0,110.9 L626.5,106.4 L622.9,118.0 L620.0,132.0 L617.5,152.0 L614.9,200.0 L612.2,236.0 L608.4,232.0 L603.0,246.0 L598.5,280.0Z" fill="#6F7D8C" fill-opacity="0.33" stroke="#6F7D8C" stroke-opacity="0.26" stroke-width="0.8" stroke-linejoin="round"/>
<path d="M597.0,281.0 L599.5,230.0 L602.0,180.0 L604.5,140.0 L607.1,107.7 L613.1,100.5 L620.2,84.4 L627.4,72.7 L631.9,82.6 L636.3,80.8 L641.7,71.0 L646.2,83.5 L651.6,77.2 L656.0,75.4 L660.5,73.6 L666.8,72.7 L671.2,79.9 L675.7,82.6 L681.1,67.4 L686.5,77.2 L690.9,70.1 L695.4,79.9 L704.4,53.1 L708.8,68.3 L713.3,66.5 L717.8,79.0 L721.4,83.5 L725.8,77.2 L729.4,74.5 L733.9,54.8 L738.4,59.3 L742.9,61.1 L747.3,68.3 L751.8,73.6 L757.2,78.1 L761.6,77.2 L766.1,76.3 L771.5,71.9 L775.1,56.6 L779.6,64.7 L783.1,75.4 L788.5,79.9 L792.1,77.2 L796.6,71.0 L796.6,86.2 L792.1,97.8 L788.5,93.3 L783.1,89.8 L779.6,77.2 L775.1,73.6 L771.5,93.3 L766.1,93.3 L761.6,89.8 L757.2,98.7 L751.8,85.3 L747.3,77.2 L742.9,75.4 L738.4,79.0 L733.9,73.6 L729.4,83.5 L725.8,88.9 L721.4,99.6 L717.8,90.6 L713.3,75.4 L708.8,80.8 L704.4,70.1 L699.9,89.8 L695.4,94.2 L690.9,88.9 L686.5,88.9 L681.1,86.2 L675.7,96.9 L671.2,91.5 L666.8,85.3 L660.5,85.3 L656.0,88.9 L651.6,91.5 L646.2,95.1 L641.7,83.5 L636.3,95.1 L631.9,94.2 L627.4,85.3 L620.2,98.7 L613.1,107.7 L610.1,107.7 L607.5,140.0 L605.0,180.0 L602.5,230.0 L600.0,281.0Z" fill="#238B23" fill-opacity="0.33" stroke="#238B23" stroke-opacity="0.26" stroke-width="0.8" stroke-linejoin="round"/>
<path d="M597.0,276.0 L599.5,215.0 L602.0,160.0 L604.0,125.0 L606.0,103.0 L608.6,93.3 L616.6,78.1 L622.0,86.2 L626.5,88.0 L631.9,70.1 L636.3,79.0 L640.8,79.9 L646.2,86.2 L650.7,79.9 L655.1,78.1 L665.0,78.1 L670.3,82.6 L675.7,75.4 L681.1,76.3 L686.5,78.1 L695.4,76.3 L699.9,81.7 L704.4,66.5 L713.3,66.5 L717.8,77.2 L725.8,73.6 L730.3,67.4 L734.8,71.9 L743.7,61.1 L747.9,62.0 L751.8,68.3 L757.2,62.0 L761.6,75.4 L766.1,62.0 L771.5,55.7 L776.0,45.0 L781.3,74.5 L792.1,66.5 L796.6,65.6 L796.6,71.9 L792.1,76.3 L781.3,87.1 L776.9,68.3 L771.5,71.9 L766.1,71.9 L761.6,113.9 L757.2,68.3 L751.8,78.1 L747.9,68.3 L743.7,77.2 L739.3,82.6 L734.8,81.7 L730.3,76.3 L725.8,80.8 L717.8,85.3 L713.3,71.9 L708.8,82.6 L704.4,78.1 L699.9,100.5 L695.4,84.4 L691.8,87.1 L681.1,83.5 L675.7,83.5 L670.3,89.8 L665.0,85.3 L655.1,84.4 L650.7,89.8 L646.2,93.3 L640.8,88.9 L636.3,105.9 L632.8,98.7 L631.0,93.3 L626.5,96.0 L622.0,92.4 L617.5,95.1 L613.1,96.9 L609.5,98.7 L609.0,103.0 L607.0,125.0 L605.0,160.0 L602.5,215.0 L600.0,276.0Z" fill="#F65C3E" fill-opacity="0.48" stroke="#F65C3E" stroke-opacity="0.38" stroke-width="0.8" stroke-linejoin="round"/>
<path d="M598.0,274.7 L603.0,256.4 L607.9,253.1 L611.9,259.7 L616.2,249.7 L621.2,244.8 L626.2,234.8 L631.2,226.5 L637.2,234.8 L642.8,229.8 L649.5,229.8 L656.1,226.5 L661.8,236.5 L667.1,234.8 L671.7,216.5 L676.1,221.5 L681.1,211.5 L686.0,221.5 L692.7,218.2 L699.3,214.9 L706.0,211.5 L709.3,213.2 L714.3,204.9 L719.3,214.9 L724.3,211.5 L730.9,211.5 L737.6,199.9 L744.2,194.9 L748.5,189.9 L754.2,201.6 L758.2,206.5 L762.5,218.2 L767.5,204.9 L772.4,199.9 L777.4,203.2 L782.4,194.9 L787.4,193.2 L793.4,204.9 L797.4,203.2" fill="none" stroke="#2190F0" stroke-width="3" stroke-linejoin="round" stroke-linecap="square" stroke-opacity="0.95"/>
<path d="M598.5,277.0 L603.0,241.0 L608.4,219.6 L612.2,225.0 L614.9,187.4 L617.5,144.4 L620.0,125.0 L622.9,112.2 L626.5,99.6 L631.0,104.1 L635.4,100.5 L639.9,97.8 L644.4,95.1 L648.9,88.0 L652.4,86.2 L656.0,92.4 L660.5,87.1 L665.0,87.1 L669.5,88.9 L673.9,79.9 L678.4,80.8 L682.9,84.4 L688.3,85.3 L693.6,88.0 L699.9,87.1 L704.4,84.4 L708.8,95.1 L713.3,76.3 L717.8,88.0 L724.1,92.4 L728.5,81.7 L733.0,88.0 L737.5,86.2 L742.0,79.9 L745.5,66.5 L749.1,84.4 L752.7,89.8 L757.2,80.8 L761.6,80.8 L766.1,79.9 L772.4,89.8 L776.9,96.0 L781.3,79.9 L786.7,84.4 L792.1,80.8 L796.6,71.9" fill="none" stroke="#6F7D8C" stroke-width="3" stroke-linejoin="round" stroke-linecap="square" stroke-opacity="0.95"/>
<path d="M598.5,281.0 L601.0,230.0 L603.5,180.0 L606.0,140.0 L608.6,107.7 L613.1,104.1 L616.6,102.3 L620.2,91.5 L623.8,83.5 L627.4,79.9 L631.9,88.9 L636.3,88.0 L641.7,77.2 L646.2,88.9 L651.6,84.4 L656.0,82.6 L660.5,79.9 L666.8,79.0 L671.2,85.3 L675.7,88.9 L681.1,79.0 L686.5,82.6 L690.9,81.7 L695.4,87.1 L699.9,81.7 L704.4,63.8 L708.8,74.5 L713.3,69.2 L717.8,85.3 L721.4,88.0 L725.8,82.6 L729.4,79.0 L733.9,66.5 L738.4,70.1 L742.9,68.3 L747.3,71.9 L751.8,79.0 L757.2,85.3 L761.6,82.6 L766.1,83.5 L771.5,82.6 L775.1,64.7 L779.6,70.1 L783.1,81.7 L788.5,85.3 L792.1,86.2 L796.6,78.1" fill="none" stroke="#238B23" stroke-width="3" stroke-linejoin="round" stroke-linecap="square" stroke-opacity="0.95"/>
<path d="M598.5,276.0 L601.0,215.0 L603.5,160.0 L605.5,125.0 L607.5,103.0 L609.5,96.0 L613.1,92.4 L617.5,90.6 L622.0,89.8 L626.5,91.9 L630.1,83.5 L632.8,88.0 L636.3,89.8 L640.8,83.5 L646.2,90.6 L650.7,85.3 L655.1,80.8 L659.6,83.5 L665.0,81.7 L670.3,86.2 L675.7,79.9 L681.1,79.0 L686.5,81.7 L691.8,82.6 L695.4,79.9 L699.9,87.1 L704.4,72.7 L708.8,78.1 L713.3,69.2 L717.8,80.8 L721.4,82.6 L725.8,76.3 L730.3,71.9 L734.8,77.2 L739.3,78.1 L743.7,71.9 L747.9,64.7 L751.8,73.6 L757.2,64.7 L761.6,88.0 L766.1,67.4 L771.5,64.7 L776.9,61.1 L781.3,80.8 L786.7,75.4 L792.1,71.0 L796.6,68.3" fill="none" stroke="#F65C3E" stroke-width="3" stroke-linejoin="round" stroke-linecap="square" stroke-opacity="0.95"/>
</g>
<g clip-path="url(#c3)">
<path d="M860.0,266.4 L869.9,226.5 L883.2,231.5 L894.9,233.1 L904.8,243.1 L909.8,233.1 L913.8,248.1 L919.8,223.2 L928.1,213.2 L933.1,233.1 L943.1,231.5 L953.0,248.1 L964.7,238.1 L971.3,233.1 L976.3,236.5 L986.3,241.4 L991.2,223.2 L997.9,224.8 L1005.5,216.5 L1011.2,254.7 L1016.2,233.1 L1021.2,224.8 L1031.1,224.8 L1035.4,223.2 L1039.4,233.1 L1044.4,204.9 L1049.4,233.1 L1053.7,194.9 L1058.7,234.8 L1058.7,259.7 L1053.7,251.4 L1049.4,253.1 L1044.4,243.1 L1039.4,251.4 L1031.1,241.4 L1021.2,241.4 L1016.2,256.4 L1011.2,274.7 L1005.5,239.8 L997.9,246.4 L991.2,246.4 L986.3,264.7 L976.3,259.7 L971.3,254.7 L964.7,271.3 L958.0,279.7 L953.0,271.3 L948.0,256.4 L943.1,254.7 L933.1,258.1 L928.1,229.8 L919.8,249.7 L913.8,268.0 L909.8,254.7 L904.8,264.7 L899.9,263.0 L894.9,256.4 L889.9,253.1 L883.2,254.7 L879.2,281.3 L874.9,254.7 L869.9,239.8 L865.0,248.1 L860.0,273.0Z" fill="#2190F0" fill-opacity="0.3" stroke="#2190F0" stroke-opacity="0.24" stroke-width="0.8" stroke-linejoin="round"/>
<path d="M860.0,259.7 L869.9,226.5 L873.9,243.1 L883.2,231.5 L889.9,206.5 L899.9,194.9 L908.2,161.7 L913.6,148.3 L918.9,132.2 L923.4,135.8 L927.9,124.2 L932.3,141.2 L937.7,118.8 L943.1,130.4 L947.6,137.6 L952.9,140.3 L957.4,126.9 L966.4,122.4 L971.7,131.3 L976.2,137.6 L980.7,129.5 L986.1,131.3 L991.4,132.2 L995.4,117.0 L1000.4,126.9 L1004.9,122.4 L1010.2,117.0 L1014.7,133.1 L1019.2,125.1 L1024.5,121.5 L1029.9,126.9 L1038.9,117.0 L1044.2,117.9 L1049.1,110.7 L1054.1,135.8 L1058.6,126.0 L1058.6,136.7 L1054.1,146.5 L1049.1,131.3 L1044.2,138.5 L1038.9,132.2 L1029.9,139.4 L1024.5,147.4 L1019.2,138.5 L1014.7,146.5 L1010.2,141.2 L1004.9,134.9 L1000.4,143.0 L995.4,126.9 L991.4,145.6 L986.1,142.1 L980.7,140.3 L976.2,148.3 L971.7,143.9 L966.4,138.5 L957.4,143.9 L952.9,149.2 L947.6,146.5 L943.1,139.4 L937.7,137.6 L932.3,151.9 L927.9,134.9 L923.4,149.2 L918.9,145.6 L913.6,166.2 L908.2,171.6 L899.9,218.2 L889.9,236.5 L883.2,248.1 L878.2,251.4 L869.9,236.5 L860.0,263.0Z" fill="#6F7D8C" fill-opacity="0.33" stroke="#6F7D8C" stroke-opacity="0.26" stroke-width="0.8" stroke-linejoin="round"/>
<path d="M860.0,262.0 L865.0,226.5 L869.9,196.6 L873.3,161.7 L874.2,126.9 L877.7,123.3 L883.1,109.0 L885.8,108.9 L894.8,88.3 L899.2,99.1 L903.7,85.6 L908.2,84.8 L913.6,68.6 L918.0,88.3 L923.0,70.4 L927.9,83.0 L931.5,85.6 L935.9,75.8 L941.3,72.2 L946.7,65.1 L952.0,74.0 L957.4,66.0 L961.9,66.9 L966.4,73.1 L971.7,70.4 L976.2,74.0 L981.6,69.5 L986.1,75.8 L991.4,70.4 L995.9,73.1 L1000.4,74.9 L1004.9,65.1 L1010.2,80.3 L1014.7,70.4 L1020.1,56.1 L1026.3,59.7 L1033.5,61.5 L1038.9,77.6 L1044.2,70.4 L1049.6,59.7 L1054.1,61.5 L1058.6,68.6 L1058.6,81.2 L1054.1,74.9 L1049.6,71.3 L1044.2,82.1 L1038.9,92.8 L1033.5,75.8 L1026.3,77.6 L1020.1,85.6 L1014.7,88.3 L1010.2,91.9 L1004.9,71.3 L1000.4,89.2 L995.9,84.8 L991.4,82.1 L986.1,88.3 L981.6,77.6 L976.2,82.1 L971.7,78.5 L966.4,83.0 L961.9,83.0 L957.4,74.9 L952.0,83.9 L946.7,86.5 L941.3,81.2 L935.9,86.5 L931.5,97.3 L927.9,103.6 L923.0,75.8 L918.0,100.9 L913.6,110.0 L908.2,99.1 L903.7,106.2 L899.2,108.0 L894.8,102.7 L885.8,110.0 L883.1,126.9 L877.7,141.2 L874.2,144.8 L873.3,168.3 L869.9,206.5 L865.0,238.1 L860.0,279.7Z" fill="#238B23" fill-opacity="0.33" stroke="#238B23" stroke-opacity="0.26" stroke-width="0.8" stroke-linejoin="round"/>
<path d="M860.0,252.1 L865.0,222.2 L869.9,192.3 L874.6,165.0 L875.1,141.2 L879.5,110.7 L883.1,100.0 L884.9,90.1 L889.4,86.5 L895.6,99.1 L903.7,90.1 L910.9,82.1 L918.0,75.8 L922.5,67.7 L927.9,49.0 L931.5,59.7 L935.9,70.4 L941.3,62.4 L946.7,57.0 L952.0,67.7 L957.4,53.4 L961.9,61.5 L966.4,57.0 L971.7,49.8 L976.2,57.0 L981.6,60.6 L986.1,60.6 L991.4,52.5 L995.9,49.8 L1000.4,53.4 L1004.9,45.4 L1010.2,53.4 L1014.7,42.7 L1020.1,63.3 L1024.5,57.0 L1029.9,41.8 L1034.4,44.5 L1038.9,54.3 L1044.2,45.4 L1048.7,55.2 L1053.2,41.8 L1058.6,66.0 L1058.6,67.7 L1053.2,63.3 L1048.7,61.5 L1044.2,50.7 L1038.9,60.6 L1034.4,57.9 L1029.9,52.5 L1024.5,78.5 L1020.1,68.6 L1014.7,57.9 L1010.2,66.0 L1004.9,75.8 L1000.4,59.7 L995.9,56.1 L991.4,59.7 L986.1,64.2 L981.6,66.9 L976.2,73.1 L971.7,63.3 L966.4,66.9 L961.9,75.8 L957.4,65.1 L952.0,75.8 L946.7,63.3 L941.3,70.4 L935.9,80.3 L931.5,74.0 L927.9,57.0 L922.5,75.8 L918.0,84.8 L913.6,86.5 L907.3,90.1 L901.9,97.3 L898.3,104.4 L897.4,114.3 L893.0,132.2 L888.5,149.2 L883.1,146.5 L879.5,153.7 L876.9,170.0 L876.6,167.7 L869.9,197.6 L865.0,227.5 L860.0,257.4Z" fill="#F65C3E" fill-opacity="0.48" stroke="#F65C3E" stroke-opacity="0.38" stroke-width="0.8" stroke-linejoin="round"/>
<path d="M860.0,269.7 L865.0,241.4 L869.9,233.1 L874.9,248.1 L879.2,259.7 L883.2,246.4 L889.9,244.8 L894.9,244.8 L899.9,253.1 L904.8,256.4 L909.8,244.8 L913.8,261.4 L919.8,236.5 L923.1,238.1 L928.1,218.2 L933.1,248.1 L938.1,238.1 L943.1,243.1 L948.0,244.8 L953.0,263.0 L958.0,263.0 L964.7,258.1 L971.3,243.1 L976.3,249.7 L981.3,246.4 L986.3,253.1 L991.2,234.8 L997.9,234.8 L1001.2,239.8 L1005.5,226.5 L1011.2,273.0 L1016.2,244.8 L1021.2,231.5 L1026.1,243.1 L1031.1,233.1 L1035.4,228.1 L1039.4,243.1 L1044.4,224.8 L1049.4,243.1 L1053.7,231.5 L1058.7,249.7" fill="none" stroke="#2190F0" stroke-width="3" stroke-linejoin="round" stroke-linecap="square" stroke-opacity="0.95"/>
<path d="M860.0,261.4 L869.9,233.1 L873.9,249.7 L883.2,244.8 L889.9,224.8 L894.9,214.9 L899.9,204.9 L903.2,184.9 L908.2,165.0 L908.2,160.9 L913.6,157.3 L918.9,138.5 L923.4,143.9 L927.9,127.7 L932.3,148.3 L937.7,131.3 L943.1,134.0 L947.6,142.1 L952.9,145.6 L957.4,138.5 L966.4,133.1 L971.7,138.5 L976.2,144.8 L980.7,134.9 L986.1,136.7 L991.4,136.7 L995.4,118.8 L1000.4,135.8 L1004.9,128.6 L1010.2,130.4 L1014.7,142.1 L1019.2,130.4 L1024.5,135.8 L1029.9,132.2 L1038.9,123.3 L1044.2,126.9 L1049.1,121.5 L1054.1,143.0 L1058.6,131.3" fill="none" stroke="#6F7D8C" stroke-width="3" stroke-linejoin="round" stroke-linecap="square" stroke-opacity="0.95"/>
<path d="M860.0,264.7 L865.0,231.5 L869.9,201.6 L873.3,165.0 L874.2,135.8 L877.7,132.2 L883.1,117.9 L885.8,110.0 L888.5,102.7 L894.8,96.4 L899.2,102.7 L903.7,95.5 L908.2,91.0 L913.6,91.9 L918.0,93.7 L923.0,72.2 L927.9,92.8 L931.5,91.9 L935.9,82.1 L941.3,74.9 L946.7,74.9 L952.0,80.3 L957.4,68.6 L961.9,71.3 L966.4,80.3 L971.7,74.0 L976.2,77.6 L981.6,72.2 L986.1,82.1 L991.4,77.6 L995.9,78.5 L1000.4,83.0 L1004.9,67.7 L1010.2,87.4 L1014.7,79.4 L1020.1,71.3 L1026.3,68.6 L1033.5,67.7 L1038.9,87.4 L1044.2,75.8 L1049.6,65.1 L1054.1,68.6 L1058.6,75.8" fill="none" stroke="#238B23" stroke-width="3" stroke-linejoin="round" stroke-linecap="square" stroke-opacity="0.95"/>
<path d="M860.0,254.7 L865.0,224.8 L869.9,194.9 L876.6,165.0 L876.9,144.8 L879.5,130.4 L883.1,121.5 L887.6,117.9 L893.9,119.7 L897.4,109.8 L898.3,100.9 L901.9,93.7 L907.3,87.4 L913.6,83.9 L918.0,80.3 L922.5,71.3 L927.9,52.5 L931.5,66.9 L935.9,76.7 L941.3,66.0 L946.7,58.8 L952.0,74.0 L957.4,60.6 L961.9,68.6 L966.4,63.3 L971.7,58.8 L976.2,66.0 L981.6,64.2 L986.1,62.4 L991.4,56.1 L995.0,53.4 L1000.4,57.0 L1004.9,57.9 L1010.2,59.7 L1014.7,50.7 L1020.1,66.0 L1024.5,62.4 L1029.9,49.0 L1034.4,52.5 L1038.9,58.8 L1044.2,47.2 L1048.7,57.9 L1053.2,57.0 L1058.6,66.9" fill="none" stroke="#F65C3E" stroke-width="3" stroke-linejoin="round" stroke-linecap="square" stroke-opacity="0.95"/>
</g>
<g clip-path="url(#c4)">
<path d="M1122.2,185.0 L1126.1,150.5 L1132.0,178.6 L1137.6,158.1 L1142.7,181.2 L1147.8,155.6 L1156.8,178.6 L1161.9,173.5 L1168.3,186.3 L1173.4,145.3 L1177.2,140.2 L1182.4,145.3 L1187.5,196.5 L1192.6,165.8 L1197.7,173.5 L1202.8,186.3 L1207.9,199.1 L1213.0,172.2 L1218.2,165.8 L1224.6,176.0 L1229.7,178.6 L1234.3,206.7 L1239.4,155.6 L1244.5,206.7 L1249.6,145.3 L1254.0,150.5 L1259.1,147.9 L1264.2,153.0 L1269.3,150.5 L1274.4,137.7 L1280.8,132.6 L1286.0,140.2 L1291.1,135.1 L1294.9,124.9 L1301.3,132.6 L1306.4,124.9 L1311.5,135.1 L1316.7,142.8 L1320.5,168.4 L1320.5,174.8 L1316.7,160.7 L1311.5,158.1 L1306.4,145.3 L1301.3,153.0 L1294.9,145.3 L1291.1,155.6 L1286.0,163.3 L1280.8,150.5 L1274.4,160.7 L1269.3,168.4 L1264.2,170.9 L1259.1,165.8 L1254.0,176.0 L1249.6,163.3 L1244.5,282.5 L1239.4,173.5 L1234.3,248.7 L1229.7,204.2 L1224.6,194.0 L1218.2,186.3 L1213.0,194.0 L1207.9,219.5 L1203.1,223.1 L1197.7,201.6 L1192.6,194.0 L1188.7,228.2 L1182.4,181.2 L1177.2,158.1 L1173.4,168.4 L1168.3,209.3 L1162.1,232.3 L1156.8,206.7 L1147.8,173.5 L1142.7,221.1 L1137.6,181.2 L1132.5,250.7 L1126.1,173.5 L1122.2,239.5Z" fill="#2190F0" fill-opacity="0.3" stroke="#2190F0" stroke-opacity="0.24" stroke-width="0.8" stroke-linejoin="round"/>
<path d="M1121.8,132.5 L1127.2,138.1 L1132.6,137.6 L1137.1,142.1 L1141.5,130.3 L1146.9,122.4 L1152.3,148.5 L1156.8,135.8 L1161.2,137.0 L1165.7,133.6 L1173.8,118.0 L1178.2,138.4 L1183.6,122.0 L1189.0,124.9 L1194.3,128.4 L1199.7,134.0 L1205.1,129.7 L1209.6,126.8 L1214.0,126.4 L1218.5,120.4 L1223.0,123.9 L1227.5,138.7 L1231.9,146.2 L1237.3,134.5 L1244.5,123.8 L1249.8,138.3 L1254.3,121.0 L1258.8,141.1 L1264.2,120.0 L1269.5,121.9 L1274.0,127.8 L1279.4,130.4 L1283.9,144.5 L1288.3,135.0 L1292.8,135.1 L1297.3,129.7 L1300.9,133.0 L1305.3,112.2 L1309.8,124.5 L1314.3,155.0 L1320.6,148.7 L1320.6,159.4 L1314.3,166.9 L1309.8,136.5 L1305.3,122.1 L1300.9,148.6 L1297.3,140.5 L1292.8,144.4 L1288.3,147.7 L1283.9,161.3 L1279.4,144.0 L1274.0,143.4 L1269.5,133.1 L1264.2,132.4 L1258.8,156.3 L1254.3,136.0 L1249.8,151.4 L1244.5,134.7 L1237.3,147.1 L1231.9,162.4 L1227.5,150.5 L1223.0,139.2 L1218.5,135.5 L1214.0,140.8 L1209.6,144.7 L1205.1,145.0 L1199.7,142.8 L1194.3,139.4 L1189.0,138.2 L1183.6,136.6 L1178.2,148.8 L1173.8,126.3 L1165.7,149.6 L1161.2,146.2 L1156.8,150.7 L1152.3,161.5 L1146.9,135.1 L1141.5,144.4 L1137.1,151.3 L1132.6,153.2 L1127.2,151.2 L1121.8,143.6Z" fill="#6F7D8C" fill-opacity="0.33" stroke="#6F7D8C" stroke-opacity="0.26" stroke-width="0.8" stroke-linejoin="round"/>
<path d="M1121.8,159.1 L1127.2,122.1 L1132.6,131.7 L1138.9,126.3 L1143.3,130.5 L1147.8,133.8 L1153.2,143.7 L1158.5,136.3 L1163.9,131.0 L1168.4,132.8 L1173.8,127.0 L1178.2,124.0 L1183.6,142.1 L1189.0,135.7 L1194.3,126.3 L1199.7,126.5 L1203.3,124.1 L1207.8,136.9 L1214.0,132.2 L1219.4,148.8 L1224.8,139.8 L1230.2,127.1 L1235.5,124.4 L1240.0,136.9 L1244.5,139.0 L1249.8,119.5 L1255.2,138.7 L1260.6,123.7 L1266.0,130.4 L1271.3,142.4 L1276.7,142.0 L1281.2,136.7 L1285.6,133.6 L1291.0,152.0 L1295.5,120.1 L1300.9,159.6 L1305.3,133.8 L1310.7,139.7 L1316.1,126.0 L1320.6,141.2 L1320.6,158.9 L1316.1,145.1 L1310.7,163.0 L1305.3,154.0 L1300.9,175.0 L1295.5,140.7 L1291.0,162.6 L1285.6,152.2 L1281.2,158.3 L1276.7,155.3 L1271.3,158.2 L1266.0,153.7 L1260.6,139.4 L1255.2,153.4 L1249.8,132.7 L1244.5,148.7 L1240.0,151.9 L1235.5,141.9 L1230.2,147.9 L1224.8,157.5 L1219.4,160.6 L1214.0,145.5 L1207.8,149.9 L1203.3,142.8 L1199.7,143.8 L1194.3,143.1 L1189.0,155.0 L1183.6,153.5 L1178.2,142.8 L1173.8,143.4 L1168.4,150.1 L1163.9,144.4 L1158.5,149.3 L1153.2,156.1 L1147.8,151.1 L1143.3,144.3 L1138.9,137.8 L1132.6,142.2 L1127.2,142.3 L1121.8,169.4Z" fill="#238B23" fill-opacity="0.33" stroke="#238B23" stroke-opacity="0.26" stroke-width="0.8" stroke-linejoin="round"/>
<path d="M1122.2,149.7 L1127.3,117.4 L1132.4,119.1 L1137.5,120.8 L1142.6,141.2 L1147.7,142.9 L1152.8,137.8 L1157.9,131.0 L1163.0,127.6 L1168.1,125.9 L1173.2,91.9 L1178.3,112.3 L1183.4,95.3 L1188.5,114.0 L1193.6,107.2 L1198.7,105.5 L1203.8,107.2 L1208.9,102.1 L1213.3,86.8 L1217.4,78.3 L1222.5,83.4 L1227.6,91.9 L1232.7,98.7 L1237.8,90.2 L1242.9,91.9 L1248.0,42.6 L1258.2,63.0 L1263.3,71.5 L1268.4,85.1 L1273.5,49.4 L1278.6,64.7 L1283.7,69.8 L1288.8,44.3 L1293.9,42.6 L1299.0,73.2 L1304.1,46.0 L1309.2,69.8 L1314.3,57.9 L1321.1,76.6 L1321.1,97.0 L1314.3,108.9 L1309.2,95.3 L1304.1,66.4 L1299.0,97.0 L1293.9,80.0 L1288.8,71.5 L1283.7,88.5 L1278.6,80.0 L1273.5,73.2 L1268.4,98.7 L1263.3,88.5 L1258.2,91.9 L1253.1,114.0 L1248.0,114.0 L1242.9,107.2 L1237.8,107.2 L1232.7,127.6 L1227.6,119.1 L1222.5,119.1 L1217.4,120.8 L1213.3,110.6 L1208.9,127.6 L1203.8,185.1 L1198.7,131.0 L1193.6,120.8 L1188.5,134.4 L1183.4,114.0 L1178.3,131.0 L1173.4,145.3 L1168.3,153.0 L1163.2,164.5 L1156.8,183.7 L1150.4,163.3 L1144.0,170.9 L1137.6,155.6 L1132.5,199.1 L1127.3,163.3 L1122.2,155.6Z" fill="#F65C3E" fill-opacity="0.48" stroke="#F65C3E" stroke-opacity="0.38" stroke-width="0.8" stroke-linejoin="round"/>
<path d="M1122.2,187.6 L1126.1,155.6 L1132.0,192.7 L1137.6,163.3 L1142.7,197.8 L1147.8,160.7 L1156.8,192.7 L1161.9,183.7 L1168.3,197.8 L1173.4,150.5 L1177.2,145.3 L1182.4,160.7 L1187.5,214.4 L1192.6,177.3 L1197.7,182.4 L1202.8,206.7 L1207.9,214.4 L1213.0,181.2 L1218.2,172.2 L1224.6,183.7 L1229.7,191.4 L1234.3,228.5 L1239.4,162.0 L1244.5,232.3 L1249.6,154.3 L1254.0,159.4 L1259.1,155.6 L1264.2,160.7 L1269.3,159.4 L1274.4,145.3 L1280.8,140.2 L1286.0,150.5 L1291.1,145.3 L1294.9,127.4 L1301.3,140.2 L1306.4,130.0 L1311.5,142.8 L1316.7,150.5 L1320.5,172.2" fill="none" stroke="#2190F0" stroke-width="3" stroke-linejoin="round" stroke-linecap="square" stroke-opacity="0.95"/>
<path d="M1121.8,138.1 L1127.2,142.6 L1132.6,145.3 L1137.1,146.2 L1141.5,137.2 L1146.9,128.3 L1152.3,152.4 L1156.8,142.6 L1161.2,140.8 L1165.7,139.9 L1173.8,122.0 L1178.2,142.6 L1183.6,128.3 L1189.0,133.6 L1194.3,132.7 L1199.7,139.0 L1205.1,137.2 L1209.6,136.3 L1214.0,133.6 L1218.5,126.5 L1223.0,133.6 L1227.5,142.6 L1231.9,155.1 L1237.3,139.9 L1244.5,128.3 L1249.8,142.6 L1254.3,126.5 L1258.8,149.8 L1264.2,124.7 L1269.5,129.2 L1274.0,135.4 L1279.4,136.3 L1283.9,151.5 L1288.3,139.0 L1292.8,139.0 L1297.3,134.5 L1300.9,140.8 L1305.3,118.4 L1309.8,130.1 L1314.3,162.3 L1320.6,155.1" fill="none" stroke="#6F7D8C" stroke-width="3" stroke-linejoin="round" stroke-linecap="square" stroke-opacity="0.95"/>
<path d="M1121.8,164.1 L1127.2,132.7 L1132.6,137.2 L1138.9,132.7 L1143.3,138.1 L1147.8,145.3 L1153.2,148.9 L1158.5,144.4 L1163.9,139.9 L1168.4,144.4 L1173.8,138.1 L1178.2,135.4 L1183.6,148.9 L1189.0,143.5 L1194.3,133.6 L1199.7,138.1 L1203.3,136.3 L1207.8,142.6 L1214.0,138.1 L1219.4,155.1 L1224.8,146.2 L1230.2,135.4 L1235.5,133.6 L1240.0,143.5 L1244.5,143.5 L1249.8,127.4 L1255.2,146.2 L1260.6,132.7 L1266.0,142.6 L1271.3,152.4 L1276.7,150.6 L1281.2,146.2 L1285.6,143.5 L1291.0,156.9 L1295.5,131.9 L1300.9,170.3 L1305.3,145.3 L1310.7,150.6 L1316.1,133.6 L1320.6,148.9" fill="none" stroke="#238B23" stroke-width="3" stroke-linejoin="round" stroke-linecap="square" stroke-opacity="0.95"/>
<path d="M1121.8,151.5 L1127.2,151.5 L1132.6,157.8 L1137.1,143.5 L1141.5,148.9 L1146.9,157.8 L1152.3,156.9 L1156.8,158.7 L1161.2,148.9 L1165.7,144.4 L1169.3,138.1 L1173.8,105.0 L1178.3,122.5 L1183.4,97.0 L1188.5,127.6 L1193.6,110.6 L1198.7,114.0 L1203.8,132.7 L1208.9,117.4 L1213.3,93.6 L1217.4,115.7 L1222.5,117.4 L1227.6,110.6 L1232.7,119.1 L1237.8,100.4 L1242.9,100.4 L1248.0,66.4 L1253.1,91.9 L1258.2,86.8 L1263.3,86.8 L1268.4,97.0 L1273.5,61.3 L1278.6,74.9 L1283.7,85.1 L1288.8,63.0 L1293.9,63.0 L1299.0,91.9 L1304.1,56.2 L1309.2,90.2 L1314.3,83.4 L1321.1,86.8" fill="none" stroke="#F65C3E" stroke-width="3" stroke-linejoin="round" stroke-linecap="square" stroke-opacity="0.95"/>
</g>
<rect x="64.6" y="29.6" width="217.7" height="264.8" fill="none" stroke="#000" stroke-width="1"/>
<line x1="74.35" y1="294.4" x2="74.35" y2="298.0" stroke="#000" stroke-width="0.9"/>
<text x="74.35" y="310.2" font-size="11.8" text-anchor="middle" textLength="7.2" lengthAdjust="spacingAndGlyphs">0</text>
<line x1="114.15" y1="294.4" x2="114.15" y2="298.0" stroke="#000" stroke-width="0.9"/>
<text x="114.15" y="310.2" font-size="11.8" text-anchor="middle" textLength="14.3" lengthAdjust="spacingAndGlyphs">20</text>
<line x1="153.95" y1="294.4" x2="153.95" y2="298.0" stroke="#000" stroke-width="0.9"/>
<text x="153.95" y="310.2" font-size="11.8" text-anchor="middle" textLength="14.3" lengthAdjust="spacingAndGlyphs">40</text>
<line x1="193.75" y1="294.4" x2="193.75" y2="298.0" stroke="#000" stroke-width="0.9"/>
<text x="193.75" y="310.2" font-size="11.8" text-anchor="middle" textLength="14.3" lengthAdjust="spacingAndGlyphs">60</text>
<line x1="233.55" y1="294.4" x2="233.55" y2="298.0" stroke="#000" stroke-width="0.9"/>
<text x="233.55" y="310.2" font-size="11.8" text-anchor="middle" textLength="14.3" lengthAdjust="spacingAndGlyphs">80</text>
<line x1="273.35" y1="294.4" x2="273.35" y2="298.0" stroke="#000" stroke-width="0.9"/>
<text x="273.35" y="310.2" font-size="11.8" text-anchor="middle" textLength="21.5" lengthAdjust="spacingAndGlyphs">100</text>
<line x1="61.00" y1="266.30" x2="64.6" y2="266.30" stroke="#000" stroke-width="0.9"/>
<text x="58.10" y="270.40" font-size="11.8" text-anchor="end" textLength="30.9" lengthAdjust="spacingAndGlyphs">−200</text>
<line x1="61.00" y1="235.50" x2="64.6" y2="235.50" stroke="#000" stroke-width="0.9"/>
<text x="58.10" y="239.60" font-size="11.8" text-anchor="end" textLength="7.2" lengthAdjust="spacingAndGlyphs">0</text>
<line x1="61.00" y1="204.70" x2="64.6" y2="204.70" stroke="#000" stroke-width="0.9"/>
<text x="58.10" y="208.80" font-size="11.8" text-anchor="end" textLength="21.5" lengthAdjust="spacingAndGlyphs">200</text>
<line x1="61.00" y1="173.90" x2="64.6" y2="173.90" stroke="#000" stroke-width="0.9"/>
<text x="58.10" y="178.00" font-size="11.8" text-anchor="end" textLength="21.5" lengthAdjust="spacingAndGlyphs">400</text>
<line x1="61.00" y1="143.10" x2="64.6" y2="143.10" stroke="#000" stroke-width="0.9"/>
<text x="58.10" y="147.20" font-size="11.8" text-anchor="end" textLength="21.5" lengthAdjust="spacingAndGlyphs">600</text>
<line x1="61.00" y1="112.30" x2="64.6" y2="112.30" stroke="#000" stroke-width="0.9"/>
<text x="58.10" y="116.40" font-size="11.8" text-anchor="end" textLength="21.5" lengthAdjust="spacingAndGlyphs">800</text>
<line x1="61.00" y1="81.50" x2="64.6" y2="81.50" stroke="#000" stroke-width="0.9"/>
<text x="58.10" y="85.60" font-size="11.8" text-anchor="end" textLength="28.6" lengthAdjust="spacingAndGlyphs">1000</text>
<line x1="61.00" y1="50.70" x2="64.6" y2="50.70" stroke="#000" stroke-width="0.9"/>
<text x="58.10" y="54.80" font-size="11.8" text-anchor="end" textLength="28.6" lengthAdjust="spacingAndGlyphs">1200</text>
<text x="173.40" y="23.9" font-size="26.8" text-anchor="middle" textLength="167.9" lengthAdjust="spacingAndGlyphs">Ant Direction</text>
<text x="173.45" y="333.8" font-size="23.5" text-anchor="middle" textLength="99" lengthAdjust="spacingAndGlyphs">Steps(M)</text>
<rect x="326.6" y="29.6" width="217.7" height="264.8" fill="none" stroke="#000" stroke-width="1"/>
<line x1="336.50" y1="294.4" x2="336.50" y2="298.0" stroke="#000" stroke-width="0.9"/>
<text x="336.50" y="310.2" font-size="11.8" text-anchor="middle" textLength="7.2" lengthAdjust="spacingAndGlyphs">0</text>
<line x1="376.28" y1="294.4" x2="376.28" y2="298.0" stroke="#000" stroke-width="0.9"/>
<text x="376.28" y="310.2" font-size="11.8" text-anchor="middle" textLength="14.3" lengthAdjust="spacingAndGlyphs">20</text>
<line x1="416.06" y1="294.4" x2="416.06" y2="298.0" stroke="#000" stroke-width="0.9"/>
<text x="416.06" y="310.2" font-size="11.8" text-anchor="middle" textLength="14.3" lengthAdjust="spacingAndGlyphs">40</text>
<line x1="455.84" y1="294.4" x2="455.84" y2="298.0" stroke="#000" stroke-width="0.9"/>
<text x="455.84" y="310.2" font-size="11.8" text-anchor="middle" textLength="14.3" lengthAdjust="spacingAndGlyphs">60</text>
<line x1="495.62" y1="294.4" x2="495.62" y2="298.0" stroke="#000" stroke-width="0.9"/>
<text x="495.62" y="310.2" font-size="11.8" text-anchor="middle" textLength="14.3" lengthAdjust="spacingAndGlyphs">80</text>
<line x1="535.40" y1="294.4" x2="535.40" y2="298.0" stroke="#000" stroke-width="0.9"/>
<text x="535.40" y="310.2" font-size="11.8" text-anchor="middle" textLength="21.5" lengthAdjust="spacingAndGlyphs">100</text>
<line x1="323.00" y1="293.10" x2="326.6" y2="293.10" stroke="#000" stroke-width="0.9"/>
<text x="320.10" y="297.20" font-size="11.8" text-anchor="end" textLength="30.9" lengthAdjust="spacingAndGlyphs">−400</text>
<line x1="323.00" y1="247.18" x2="326.6" y2="247.18" stroke="#000" stroke-width="0.9"/>
<text x="320.10" y="251.28" font-size="11.8" text-anchor="end" textLength="30.9" lengthAdjust="spacingAndGlyphs">−200</text>
<line x1="323.00" y1="201.26" x2="326.6" y2="201.26" stroke="#000" stroke-width="0.9"/>
<text x="320.10" y="205.36" font-size="11.8" text-anchor="end" textLength="7.2" lengthAdjust="spacingAndGlyphs">0</text>
<line x1="323.00" y1="155.34" x2="326.6" y2="155.34" stroke="#000" stroke-width="0.9"/>
<text x="320.10" y="159.44" font-size="11.8" text-anchor="end" textLength="21.5" lengthAdjust="spacingAndGlyphs">200</text>
<line x1="323.00" y1="109.42" x2="326.6" y2="109.42" stroke="#000" stroke-width="0.9"/>
<text x="320.10" y="113.52" font-size="11.8" text-anchor="end" textLength="21.5" lengthAdjust="spacingAndGlyphs">400</text>
<line x1="323.00" y1="63.50" x2="326.6" y2="63.50" stroke="#000" stroke-width="0.9"/>
<text x="320.10" y="67.60" font-size="11.8" text-anchor="end" textLength="21.5" lengthAdjust="spacingAndGlyphs">600</text>
<text x="436.45" y="23.9" font-size="26.8" text-anchor="middle" textLength="153.2" lengthAdjust="spacingAndGlyphs">Ant Velocity</text>
<text x="435.45" y="333.8" font-size="23.5" text-anchor="middle" textLength="99" lengthAdjust="spacingAndGlyphs">Steps(M)</text>
<rect x="588.5" y="29.6" width="217.9" height="264.8" fill="none" stroke="#000" stroke-width="1"/>
<line x1="598.50" y1="294.4" x2="598.50" y2="298.0" stroke="#000" stroke-width="0.9"/>
<text x="598.50" y="310.2" font-size="11.8" text-anchor="middle" textLength="7.2" lengthAdjust="spacingAndGlyphs">0</text>
<line x1="638.84" y1="294.4" x2="638.84" y2="298.0" stroke="#000" stroke-width="0.9"/>
<text x="638.84" y="310.2" font-size="11.8" text-anchor="middle" textLength="14.3" lengthAdjust="spacingAndGlyphs">20</text>
<line x1="679.18" y1="294.4" x2="679.18" y2="298.0" stroke="#000" stroke-width="0.9"/>
<text x="679.18" y="310.2" font-size="11.8" text-anchor="middle" textLength="14.3" lengthAdjust="spacingAndGlyphs">40</text>
<line x1="719.52" y1="294.4" x2="719.52" y2="298.0" stroke="#000" stroke-width="0.9"/>
<text x="719.52" y="310.2" font-size="11.8" text-anchor="middle" textLength="14.3" lengthAdjust="spacingAndGlyphs">60</text>
<line x1="759.86" y1="294.4" x2="759.86" y2="298.0" stroke="#000" stroke-width="0.9"/>
<text x="759.86" y="310.2" font-size="11.8" text-anchor="middle" textLength="14.3" lengthAdjust="spacingAndGlyphs">80</text>
<line x1="800.20" y1="294.4" x2="800.20" y2="298.0" stroke="#000" stroke-width="0.9"/>
<text x="800.20" y="310.2" font-size="11.8" text-anchor="middle" textLength="21.5" lengthAdjust="spacingAndGlyphs">100</text>
<line x1="584.90" y1="287.90" x2="588.5" y2="287.90" stroke="#000" stroke-width="0.9"/>
<text x="582.00" y="292.00" font-size="11.8" text-anchor="end" textLength="30.9" lengthAdjust="spacingAndGlyphs">−200</text>
<line x1="584.90" y1="257.39" x2="588.5" y2="257.39" stroke="#000" stroke-width="0.9"/>
<text x="582.00" y="261.49" font-size="11.8" text-anchor="end" textLength="7.2" lengthAdjust="spacingAndGlyphs">0</text>
<line x1="584.90" y1="226.87" x2="588.5" y2="226.87" stroke="#000" stroke-width="0.9"/>
<text x="582.00" y="230.97" font-size="11.8" text-anchor="end" textLength="21.5" lengthAdjust="spacingAndGlyphs">200</text>
<line x1="584.90" y1="196.36" x2="588.5" y2="196.36" stroke="#000" stroke-width="0.9"/>
<text x="582.00" y="200.46" font-size="11.8" text-anchor="end" textLength="21.5" lengthAdjust="spacingAndGlyphs">400</text>
<line x1="584.90" y1="165.85" x2="588.5" y2="165.85" stroke="#000" stroke-width="0.9"/>
<text x="582.00" y="169.95" font-size="11.8" text-anchor="end" textLength="21.5" lengthAdjust="spacingAndGlyphs">600</text>
<line x1="584.90" y1="135.34" x2="588.5" y2="135.34" stroke="#000" stroke-width="0.9"/>
<text x="582.00" y="139.44" font-size="11.8" text-anchor="end" textLength="21.5" lengthAdjust="spacingAndGlyphs">800</text>
<line x1="584.90" y1="104.82" x2="588.5" y2="104.82" stroke="#000" stroke-width="0.9"/>
<text x="582.00" y="108.92" font-size="11.8" text-anchor="end" textLength="28.6" lengthAdjust="spacingAndGlyphs">1000</text>
<line x1="584.90" y1="74.31" x2="588.5" y2="74.31" stroke="#000" stroke-width="0.9"/>
<text x="582.00" y="78.41" font-size="11.8" text-anchor="end" textLength="28.6" lengthAdjust="spacingAndGlyphs">1200</text>
<line x1="584.90" y1="43.80" x2="588.5" y2="43.80" stroke="#000" stroke-width="0.9"/>
<text x="582.00" y="47.90" font-size="11.8" text-anchor="end" textLength="28.6" lengthAdjust="spacingAndGlyphs">1400</text>
<text x="697.75" y="23.9" font-size="26.8" text-anchor="middle" textLength="230.0" lengthAdjust="spacingAndGlyphs">Cheetah Direction</text>
<text x="697.45" y="333.8" font-size="23.5" text-anchor="middle" textLength="99" lengthAdjust="spacingAndGlyphs">Steps(M)</text>
<rect x="850.5" y="29.6" width="217.7" height="264.8" fill="none" stroke="#000" stroke-width="1"/>
<line x1="860.50" y1="294.4" x2="860.50" y2="298.0" stroke="#000" stroke-width="0.9"/>
<text x="860.50" y="310.2" font-size="11.8" text-anchor="middle" textLength="7.2" lengthAdjust="spacingAndGlyphs">0</text>
<line x1="900.84" y1="294.4" x2="900.84" y2="298.0" stroke="#000" stroke-width="0.9"/>
<text x="900.84" y="310.2" font-size="11.8" text-anchor="middle" textLength="14.3" lengthAdjust="spacingAndGlyphs">20</text>
<line x1="941.18" y1="294.4" x2="941.18" y2="298.0" stroke="#000" stroke-width="0.9"/>
<text x="941.18" y="310.2" font-size="11.8" text-anchor="middle" textLength="14.3" lengthAdjust="spacingAndGlyphs">40</text>
<line x1="981.52" y1="294.4" x2="981.52" y2="298.0" stroke="#000" stroke-width="0.9"/>
<text x="981.52" y="310.2" font-size="11.8" text-anchor="middle" textLength="14.3" lengthAdjust="spacingAndGlyphs">60</text>
<line x1="1021.86" y1="294.4" x2="1021.86" y2="298.0" stroke="#000" stroke-width="0.9"/>
<text x="1021.86" y="310.2" font-size="11.8" text-anchor="middle" textLength="14.3" lengthAdjust="spacingAndGlyphs">80</text>
<line x1="1062.20" y1="294.4" x2="1062.20" y2="298.0" stroke="#000" stroke-width="0.9"/>
<text x="1062.20" y="310.2" font-size="11.8" text-anchor="middle" textLength="21.5" lengthAdjust="spacingAndGlyphs">100</text>
<line x1="846.90" y1="265.80" x2="850.5" y2="265.80" stroke="#000" stroke-width="0.9"/>
<text x="844.00" y="269.90" font-size="11.8" text-anchor="end" textLength="38.0" lengthAdjust="spacingAndGlyphs">−1400</text>
<line x1="846.90" y1="218.15" x2="850.5" y2="218.15" stroke="#000" stroke-width="0.9"/>
<text x="844.00" y="222.25" font-size="11.8" text-anchor="end" textLength="38.0" lengthAdjust="spacingAndGlyphs">−1200</text>
<line x1="846.90" y1="170.50" x2="850.5" y2="170.50" stroke="#000" stroke-width="0.9"/>
<text x="844.00" y="174.60" font-size="11.8" text-anchor="end" textLength="38.0" lengthAdjust="spacingAndGlyphs">−1000</text>
<line x1="846.90" y1="122.85" x2="850.5" y2="122.85" stroke="#000" stroke-width="0.9"/>
<text x="844.00" y="126.95" font-size="11.8" text-anchor="end" textLength="30.9" lengthAdjust="spacingAndGlyphs">−800</text>
<line x1="846.90" y1="75.20" x2="850.5" y2="75.20" stroke="#000" stroke-width="0.9"/>
<text x="844.00" y="79.30" font-size="11.8" text-anchor="end" textLength="30.9" lengthAdjust="spacingAndGlyphs">−600</text>
<text x="960.15" y="23.9" font-size="26.8" text-anchor="middle" textLength="216.4" lengthAdjust="spacingAndGlyphs">Cheetah Velocity</text>
<text x="959.35" y="333.8" font-size="23.5" text-anchor="middle" textLength="99" lengthAdjust="spacingAndGlyphs">Steps(M)</text>
<rect x="1112.6" y="29.6" width="217.9" height="264.8" fill="none" stroke="#000" stroke-width="1"/>
<line x1="1154.38" y1="294.4" x2="1154.38" y2="298.0" stroke="#000" stroke-width="0.9"/>
<text x="1154.38" y="310.2" font-size="11.8" text-anchor="middle" textLength="14.3" lengthAdjust="spacingAndGlyphs">20</text>
<line x1="1196.86" y1="294.4" x2="1196.86" y2="298.0" stroke="#000" stroke-width="0.9"/>
<text x="1196.86" y="310.2" font-size="11.8" text-anchor="middle" textLength="14.3" lengthAdjust="spacingAndGlyphs">40</text>
<line x1="1239.34" y1="294.4" x2="1239.34" y2="298.0" stroke="#000" stroke-width="0.9"/>
<text x="1239.34" y="310.2" font-size="11.8" text-anchor="middle" textLength="14.3" lengthAdjust="spacingAndGlyphs">60</text>
<line x1="1281.82" y1="294.4" x2="1281.82" y2="298.0" stroke="#000" stroke-width="0.9"/>
<text x="1281.82" y="310.2" font-size="11.8" text-anchor="middle" textLength="14.3" lengthAdjust="spacingAndGlyphs">80</text>
<line x1="1324.30" y1="294.4" x2="1324.30" y2="298.0" stroke="#000" stroke-width="0.9"/>
<text x="1324.30" y="310.2" font-size="11.8" text-anchor="middle" textLength="21.5" lengthAdjust="spacingAndGlyphs">100</text>
<line x1="1109.00" y1="262.70" x2="1112.6" y2="262.70" stroke="#000" stroke-width="0.9"/>
<text x="1106.10" y="266.80" font-size="11.8" text-anchor="end" textLength="38.0" lengthAdjust="spacingAndGlyphs">−1800</text>
<line x1="1109.00" y1="213.25" x2="1112.6" y2="213.25" stroke="#000" stroke-width="0.9"/>
<text x="1106.10" y="217.35" font-size="11.8" text-anchor="end" textLength="38.0" lengthAdjust="spacingAndGlyphs">−1600</text>
<line x1="1109.00" y1="163.80" x2="1112.6" y2="163.80" stroke="#000" stroke-width="0.9"/>
<text x="1106.10" y="167.90" font-size="11.8" text-anchor="end" textLength="38.0" lengthAdjust="spacingAndGlyphs">−1400</text>
<line x1="1109.00" y1="114.35" x2="1112.6" y2="114.35" stroke="#000" stroke-width="0.9"/>
<text x="1106.10" y="118.45" font-size="11.8" text-anchor="end" textLength="38.0" lengthAdjust="spacingAndGlyphs">−1200</text>
<line x1="1109.00" y1="64.90" x2="1112.6" y2="64.90" stroke="#000" stroke-width="0.9"/>
<text x="1106.10" y="69.00" font-size="11.8" text-anchor="end" textLength="38.0" lengthAdjust="spacingAndGlyphs">−1000</text>
<text x="1220.90" y="23.9" font-size="26.8" text-anchor="middle" textLength="172.3" lengthAdjust="spacingAndGlyphs">Cheetah Goal</text>
<text x="1221.55" y="333.8" font-size="23.5" text-anchor="middle" textLength="99" lengthAdjust="spacingAndGlyphs">Steps(M)</text>
<text transform="translate(18.4,161) rotate(-90)" x="0" y="0" font-size="23.5" text-anchor="middle" textLength="174" lengthAdjust="spacingAndGlyphs">Episode Return</text>
<rect x="263.5" y="347.2" width="823.6" height="41.9" rx="3" ry="3" fill="#fff" stroke="#d0d0d0" stroke-width="1"/>
<line x1="271.9" y1="366.5" x2="321.9" y2="366.5" stroke="#E8694F" stroke-width="3.3"/>
<text x="387.70" y="374.9" font-size="24.5" text-anchor="middle" textLength="94.8" lengthAdjust="spacingAndGlyphs">SeCBAD</text>
<line x1="481.8" y1="366.5" x2="531.9" y2="366.5" stroke="#2B88E0" stroke-width="3.3"/>
<text x="597.85" y="374.9" font-size="24.5" text-anchor="middle" textLength="96.7" lengthAdjust="spacingAndGlyphs">VariBAD</text>
<line x1="691.0" y1="366.5" x2="740.7" y2="366.5" stroke="#6F7B8B" stroke-width="3.3"/>
<text x="809.05" y="374.9" font-size="24.5" text-anchor="middle" textLength="100.1" lengthAdjust="spacingAndGlyphs">FANS-RL</text>
<line x1="903.2" y1="366.5" x2="952.6" y2="366.5" stroke="#2D8530" stroke-width="3.3"/>
<text x="1023.75" y="374.9" font-size="24.5" text-anchor="middle" textLength="105.7" lengthAdjust="spacingAndGlyphs">PPO-RNN</text>
</svg>
</body></html>
